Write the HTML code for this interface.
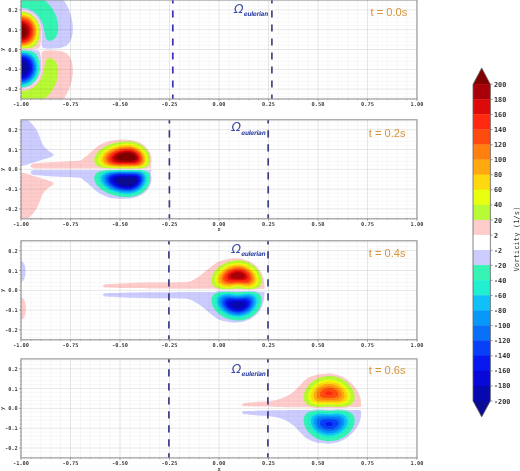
<!DOCTYPE html>
<html><head><meta charset="utf-8"><title>Vorticity</title><style>
html,body{margin:0;padding:0;background:#fff;overflow:hidden;width:520px;height:471px;}
svg{display:block;filter:blur(0.75px);}
.mn{stroke:rgba(0,0,0,0.06);stroke-width:0.6;}
.mj{stroke:rgba(0,0,0,0.12);stroke-width:0.8;}
.tk{stroke:#777;stroke-width:0.7;}
.tl{font-family:"DejaVu Sans Mono","Liberation Mono",monospace;font-size:5.3px;fill:#404040;font-weight:bold;}
.cl{font-family:"DejaVu Sans Mono","Liberation Mono",monospace;font-size:6.8px;fill:#333;font-weight:bold;}
.vl{font-family:"DejaVu Sans Mono","Liberation Mono",monospace;font-size:7.2px;fill:#333;}
.om{font-family:"DejaVu Sans","Liberation Sans",sans-serif;font-style:italic;font-size:12.4px;fill:#3a4aa8;}
.sub{font-family:"DejaVu Sans","Liberation Sans",sans-serif;font-style:italic;font-stretch:condensed;font-weight:bold;font-size:6.4px;letter-spacing:-0.32px;}
.tt{font-family:"Liberation Sans","DejaVu Sans",sans-serif;font-size:11.1px;fill:#d4953c;}
</style></head><body>
<svg width="520" height="471" viewBox="0 0 520 471">
<rect width="520" height="471" fill="#fff"/>
<g>
<clipPath id="c0"><rect x="21.0" y="0.0" width="396.0" height="99.0"/></clipPath>
<g clip-path="url(#c0)">

<path fill="#ccccff" d="M19 -2L62.2 -2 65.9 3.5 68.9 9.5 71.1 16 72.4 22.5 72.8 26 72.8 29.5 72.6 32.5 72.2 35.5 71.6 38 70.6 40.5 69.5 42.5 68.3 44 66.5 45.5 64.5 46.6 61.9 47.5 58.5 48.2 53.5 48.6 47.5 48.7 44 48.3 42.5 47.6 41.9 46.5 41.5 44.5 41.9 34 41.6 29.5 40.9 25.5 39.3 21.5 37.9 19 36 16.5 33.5 14.2 31 12.5 28 11.1 25 10.2 22 9.8 19 9.9ZM19 50L19 49.6 29 49.6 35 49.9 38 50.4 39 51 39.5 51.6 40.3 54.5 41.2 62 41.4 66 41.2 70 40.3 74 39.2 77 37.5 80 35.5 82.5 34 84 32 85.5 30 86.7 28 87.6 26 88.2 23.5 88.7 21.5 88.8 19 88.8Z"/>
<path fill="#ffcccc" d="M19 10.5L19 10.2 20.5 10.2 24 10.4 27 11.1 30 12.3 32.5 13.9 35 16 36.8 18 38.4 20.5 39.6 23 40.6 26 41.1 28.5 41.4 31.5 41.4 35.5 40.8 41.5 40.1 45.5 39.5 47.4 39 48 38.2 48.5 35.5 49.1 29.5 49.4 19 49.4ZM44.9 50.5L51.5 50.3 58.5 50.8 63 51.8 64.7 52.5 66.5 53.5 67.8 54.5 69.1 56 70.8 59 71.6 61 72.2 63.5 72.8 68.5 72.8 72.5 72.4 77 71.6 81 70.4 85.5 68.7 90 66.7 94 64.7 97.5 62.2 101 47.5 101 19 101 19 89.1 22 89.2 25 88.8 28 87.9 30.5 86.8 33 85.2 35.5 83 37.6 80.5 39.1 78 40.7 74 41.3 71.5 41.7 69 41.9 64.5 41.5 55.5 41.7 53 42 52.2 42.5 51.4 43.5 50.8Z"/>
<path fill="#36f5b4" d="M19 -2L41.5 -2 45.5 1 48.7 4 51.9 8 54.3 12 56.3 16.5 57.7 21.5 58.3 26 58.1 30.5 57.8 32.5 57.1 34.5 56.5 36 55.5 37.5 53.5 39.5 52.5 40.1 51 40.7 49.5 40.8 48.5 40.7 47.5 40.3 46.6 39.5 46 38.5 45.3 36.5 43.8 28.5 42.8 24.5 41.4 21 39.7 18 37.8 15.5 35.9 13.5 33.5 11.6 31 10.2 28.5 9.1 25.5 8.2 22 7.8 19 7.9ZM19 50.5L22 50.4 26.5 50.6 29.5 51 32 51.6 34 52.4 35.5 53.5 36.8 55 37.7 56.5 38.8 59.5 39.6 63 39.9 66.5 39.7 70 39 73.5 37.9 76.5 36.5 79 34.5 81.5 31.5 84.1 29.5 85.4 27.5 86.3 23.5 87.3 21.5 87.4 19 87.3Z"/>
<path fill="#b8fa35" d="M19 12L19 11.7 20.5 11.6 24 11.8 27 12.6 29.5 13.6 32 15.2 34 17 36.1 19.5 37.6 22 38.7 24.5 39.5 27.5 39.8 30.5 39.8 34 39.3 37.5 38.5 40.5 37.4 43 36 45 34.9 46 33.5 46.9 30 47.9 25.5 48.5 19 48.6ZM47.9 58.5L49 58.2 50.5 58.2 52 58.7 53.5 59.5 54.6 60.5 55.9 62 56.7 63.5 57.5 65.5 58.3 69.5 58.2 74.5 57.3 79.5 55.8 84 53.2 89 50 93.5 46.1 97.5 42 100.7 41.5 101 30 101 19 101 19 91.1 21.5 91.2 24 91 26.5 90.5 29 89.7 31 88.8 33.5 87.4 35.9 85.5 37.8 83.5 40.4 80 42.3 76 43.7 71 45 63.7 45.5 61.7 46.5 59.6Z"/>
<path fill="#20f0d0" d="M19 51.5L19 51.4 21 51.3 25 51.5 28 52 30.5 52.7 32.5 53.7 34 54.9 35.4 56.5 36.6 58.5 37.7 61.5 38.3 64.5 38.5 67.5 38.3 70.5 37.6 73.5 36.5 76.2 35 78.8 33.1 81 30 83.5 26.5 85.2 23 86 19 86Z"/>
<path fill="#e8ff10" d="M19.3 13L22 12.9 24.5 13.3 27 14 29.5 15.2 31.5 16.6 33.6 18.5 35.2 20.5 36.6 23 37.6 25.5 38.3 28.5 38.5 31 38.4 34 37.8 37 36.8 40 35.5 42.4 34.1 44 32.9 45 31.5 45.8 28.5 46.9 24.5 47.5 19 47.6 19 13Z"/>
<path fill="#10c0f8" d="M19 52.5L19 52.4 21 52.3 24.5 52.5 27.3 53 29.5 53.7 31.5 54.8 32.9 56 34.2 57.5 35.4 59.5 36.4 62 37 65 37.2 68 37 70.5 36.4 73 35.5 75.5 34 78 32.5 79.8 29.5 82.3 26.5 83.8 23 84.7 21 84.8 19 84.7Z"/>
<path fill="#ffd810" d="M19 14.5L19 14.3 20.5 14.2 23.5 14.4 26 15 28.3 16 30.5 17.4 32.3 19 34 21 35.2 23 36.3 25.5 36.9 28 37.2 30.5 37.1 33 36.7 36 35.9 38.5 34.9 40.5 33.4 42.5 31 44.5 28 45.8 24 46.6 19 46.6Z"/>
<path fill="#0898f8" d="M19 53.5L19 53.4 21 53.3 24 53.5 26.5 54 28.5 54.7 30.5 55.8 32 57 33.3 58.5 34.4 60.5 35.3 63 35.8 65.5 36 68 35.8 70.5 35.2 73 34.4 75 33 77.3 31.5 79.1 30 80.5 28.5 81.5 25.5 82.9 22.5 83.5 19 83.4Z"/>
<path fill="#ffa810" d="M19.4 15.5L21.5 15.4 24 15.7 26 16.3 28 17.2 30 18.5 31.6 20 33.2 22 34.4 24 35.2 26 35.8 28.5 36 31 35.8 33.5 35.3 36 34.5 38.3 33.3 40.5 32 42 29.5 43.8 26.5 45 23 45.6 19 45.6 19 15.6Z"/>
<path fill="#0870f8" d="M19 54.5L21 54.3 23.5 54.5 26 55 28 55.8 29.5 56.6 31 57.9 32.4 59.5 33.2 61 34 63 34.6 65.5 34.8 68 34.6 70 34 72.5 33.2 74.5 32.1 76.5 30.9 78 28.5 80 25.5 81.6 22.5 82.3 19 82.2Z"/>
<path fill="#ff8010" d="M19 17L19 16.8 20.5 16.7 23 16.8 25 17.3 27 18.1 29 19.3 30.5 20.6 32 22.4 33 24 33.9 26 34.5 28.5 34.7 30.5 34.7 33 34.2 35.5 33.5 37.5 32.4 39.5 31.1 41 29 42.7 26 44 22.5 44.6 19 44.6Z"/>
<path fill="#0840f8" d="M19.3 55.5L21.5 55.4 23.5 55.6 25.5 56.1 27.5 56.9 29 57.8 30.3 59 31.5 60.5 32.3 62 33 64 33.4 66 33.5 68.5 33.3 70.5 32.7 72.5 32 74.1 30.9 76 29.5 77.5 27 79.4 24.5 80.5 22 81 19 80.9 19 55.5Z"/>
<path fill="#ff4a10" d="M20.2 18L22 18 24 18.4 25.9 19 27.5 19.9 29 21 30.5 22.5 31.5 24 32.5 26 33.1 28 33.5 30 33.5 32 33.2 34 32.7 36 32 37.6 31 39.1 29.5 40.7 27.5 42.1 25 43.1 22 43.6 19 43.5 19 18.1Z"/>
<path fill="#0818f0" d="M19 57L19 56.8 19.5 56.7 22 56.6 24 56.9 26 57.6 27.5 58.4 28.9 59.5 30 60.8 30.8 62 31.5 63.7 32 65.5 32.2 67.5 32.1 69.5 31.6 71.5 31 73 30.2 74.5 29 76.1 27 77.8 24.5 79 22 79.6 19 79.4Z"/>
<path fill="#ff2a10" d="M19.5 19.5L21 19.4 23 19.6 26 20.6 27.5 21.6 29 22.9 30 24.2 31 25.9 31.6 27.5 32.1 29.5 32.1 33 31.6 35 31 36.5 30.1 38 29 39.4 27 40.9 24.5 41.9 22 42.4 19 42.2 19 19.6Z"/>
<path fill="#0808d8" d="M20 58L23 58.1 24.5 58.5 26 59.2 28.2 61 29 62 29.8 63.5 30.6 66.5 30.7 68.5 30.4 70 30 71.5 29.3 73 28.5 74.2 27.3 75.5 25.5 76.8 23.5 77.7 21 78 19 77.8 19 58.1Z"/>
<path fill="#dd0a0a" d="M19 21.5L19 21.2 19.5 21.1 21.5 21 23.5 21.3 25 21.9 27.5 23.6 28.7 25 29.5 26.3 30.2 28 30.5 29.5 30.6 32.5 29.8 35.5 29 37 28 38.2 26 39.8 24 40.6 21.5 41 19 40.9Z"/>
<path fill="#0808b0" d="M19 60L19 59.8 19.5 59.7 21 59.6 22.5 59.7 24 60.1 26.3 61.5 27.9 63.5 28.8 66 28.9 67.5 28.8 69 28 71.5 26.5 73.7 25 74.9 23 75.7 21 76 19 75.7Z"/>
<path fill="#a80008" d="M20.5 23L23 23.3 24.5 23.9 25.5 24.5 27.4 26.5 28.4 28.5 28.9 31 28.7 33.5 27.6 36 26 37.7 24.5 38.7 22.5 39.3 20.5 39.4 19 39.2 19 23.3Z"/>
<path fill="#0c0c92" d="M19.6 62L21.5 61.8 23.5 62.4 25 63.5 25.9 65 26.4 67 26.2 69 25.5 70.6 24.2 72 23 72.7 21.5 73.1 20.1 73 19 72.7 19 62.2Z"/>
<path fill="#800000" d="M20.1 26L22 26 23.5 26.6 25 27.8 26 29.5 26.4 31.5 26.1 33.5 25.4 35 24 36.3 23 36.8 21.5 37.2 20 37.1 19 36.8 19 26.3Z"/>
<line x1="30.90" y1="0.00" x2="30.90" y2="99.00" class="mn"/>
<line x1="40.80" y1="0.00" x2="40.80" y2="99.00" class="mn"/>
<line x1="50.70" y1="0.00" x2="50.70" y2="99.00" class="mn"/>
<line x1="60.60" y1="0.00" x2="60.60" y2="99.00" class="mn"/>
<line x1="80.40" y1="0.00" x2="80.40" y2="99.00" class="mn"/>
<line x1="90.30" y1="0.00" x2="90.30" y2="99.00" class="mn"/>
<line x1="100.20" y1="0.00" x2="100.20" y2="99.00" class="mn"/>
<line x1="110.10" y1="0.00" x2="110.10" y2="99.00" class="mn"/>
<line x1="129.90" y1="0.00" x2="129.90" y2="99.00" class="mn"/>
<line x1="139.80" y1="0.00" x2="139.80" y2="99.00" class="mn"/>
<line x1="149.70" y1="0.00" x2="149.70" y2="99.00" class="mn"/>
<line x1="159.60" y1="0.00" x2="159.60" y2="99.00" class="mn"/>
<line x1="179.40" y1="0.00" x2="179.40" y2="99.00" class="mn"/>
<line x1="189.30" y1="0.00" x2="189.30" y2="99.00" class="mn"/>
<line x1="199.20" y1="0.00" x2="199.20" y2="99.00" class="mn"/>
<line x1="209.10" y1="0.00" x2="209.10" y2="99.00" class="mn"/>
<line x1="228.90" y1="0.00" x2="228.90" y2="99.00" class="mn"/>
<line x1="238.80" y1="0.00" x2="238.80" y2="99.00" class="mn"/>
<line x1="248.70" y1="0.00" x2="248.70" y2="99.00" class="mn"/>
<line x1="258.60" y1="0.00" x2="258.60" y2="99.00" class="mn"/>
<line x1="278.40" y1="0.00" x2="278.40" y2="99.00" class="mn"/>
<line x1="288.30" y1="0.00" x2="288.30" y2="99.00" class="mn"/>
<line x1="298.20" y1="0.00" x2="298.20" y2="99.00" class="mn"/>
<line x1="308.10" y1="0.00" x2="308.10" y2="99.00" class="mn"/>
<line x1="327.90" y1="0.00" x2="327.90" y2="99.00" class="mn"/>
<line x1="337.80" y1="0.00" x2="337.80" y2="99.00" class="mn"/>
<line x1="347.70" y1="0.00" x2="347.70" y2="99.00" class="mn"/>
<line x1="357.60" y1="0.00" x2="357.60" y2="99.00" class="mn"/>
<line x1="377.40" y1="0.00" x2="377.40" y2="99.00" class="mn"/>
<line x1="387.30" y1="0.00" x2="387.30" y2="99.00" class="mn"/>
<line x1="397.20" y1="0.00" x2="397.20" y2="99.00" class="mn"/>
<line x1="407.10" y1="0.00" x2="407.10" y2="99.00" class="mn"/>
<line x1="21.00" y1="1.98" x2="417.00" y2="1.98" class="mn"/>
<line x1="21.00" y1="5.94" x2="417.00" y2="5.94" class="mn"/>
<line x1="21.00" y1="13.86" x2="417.00" y2="13.86" class="mn"/>
<line x1="21.00" y1="17.82" x2="417.00" y2="17.82" class="mn"/>
<line x1="21.00" y1="21.78" x2="417.00" y2="21.78" class="mn"/>
<line x1="21.00" y1="25.74" x2="417.00" y2="25.74" class="mn"/>
<line x1="21.00" y1="33.66" x2="417.00" y2="33.66" class="mn"/>
<line x1="21.00" y1="37.62" x2="417.00" y2="37.62" class="mn"/>
<line x1="21.00" y1="41.58" x2="417.00" y2="41.58" class="mn"/>
<line x1="21.00" y1="45.54" x2="417.00" y2="45.54" class="mn"/>
<line x1="21.00" y1="53.46" x2="417.00" y2="53.46" class="mn"/>
<line x1="21.00" y1="57.42" x2="417.00" y2="57.42" class="mn"/>
<line x1="21.00" y1="61.38" x2="417.00" y2="61.38" class="mn"/>
<line x1="21.00" y1="65.34" x2="417.00" y2="65.34" class="mn"/>
<line x1="21.00" y1="73.26" x2="417.00" y2="73.26" class="mn"/>
<line x1="21.00" y1="77.22" x2="417.00" y2="77.22" class="mn"/>
<line x1="21.00" y1="81.18" x2="417.00" y2="81.18" class="mn"/>
<line x1="21.00" y1="85.14" x2="417.00" y2="85.14" class="mn"/>
<line x1="21.00" y1="93.06" x2="417.00" y2="93.06" class="mn"/>
<line x1="21.00" y1="97.02" x2="417.00" y2="97.02" class="mn"/>
<line x1="21.00" y1="0.00" x2="21.00" y2="99.00" class="mj"/>
<line x1="70.50" y1="0.00" x2="70.50" y2="99.00" class="mj"/>
<line x1="120.00" y1="0.00" x2="120.00" y2="99.00" class="mj"/>
<line x1="169.50" y1="0.00" x2="169.50" y2="99.00" class="mj"/>
<line x1="219.00" y1="0.00" x2="219.00" y2="99.00" class="mj"/>
<line x1="268.50" y1="0.00" x2="268.50" y2="99.00" class="mj"/>
<line x1="318.00" y1="0.00" x2="318.00" y2="99.00" class="mj"/>
<line x1="367.50" y1="0.00" x2="367.50" y2="99.00" class="mj"/>
<line x1="417.00" y1="0.00" x2="417.00" y2="99.00" class="mj"/>
<line x1="21.00" y1="9.90" x2="417.00" y2="9.90" class="mj"/>
<line x1="21.00" y1="29.70" x2="417.00" y2="29.70" class="mj"/>
<line x1="21.00" y1="49.50" x2="417.00" y2="49.50" class="mj"/>
<line x1="21.00" y1="69.30" x2="417.00" y2="69.30" class="mj"/>
<line x1="21.00" y1="89.10" x2="417.00" y2="89.10" class="mj"/>
<line x1="172.8" y1="0.0" x2="172.8" y2="99.0" stroke="#3b30b8" stroke-width="1.7" stroke-dasharray="7.2 6.8" stroke-dashoffset="3.6"/>
<line x1="271.9" y1="0.0" x2="271.9" y2="99.0" stroke="#45457c" stroke-width="1.7" stroke-dasharray="7.2 6.8" stroke-dashoffset="3.6"/>
</g>
<rect x="21.0" y="0.0" width="396.0" height="99.0" fill="none" stroke="#959595" stroke-width="1.15"/>
<path d="M30.90 99.00v1.2M40.80 99.00v1.2M50.70 99.00v1.2M60.60 99.00v1.2M80.40 99.00v1.2M90.30 99.00v1.2M100.20 99.00v1.2M110.10 99.00v1.2M129.90 99.00v1.2M139.80 99.00v1.2M149.70 99.00v1.2M159.60 99.00v1.2M179.40 99.00v1.2M189.30 99.00v1.2M199.20 99.00v1.2M209.10 99.00v1.2M228.90 99.00v1.2M238.80 99.00v1.2M248.70 99.00v1.2M258.60 99.00v1.2M278.40 99.00v1.2M288.30 99.00v1.2M298.20 99.00v1.2M308.10 99.00v1.2M327.90 99.00v1.2M337.80 99.00v1.2M347.70 99.00v1.2M357.60 99.00v1.2M377.40 99.00v1.2M387.30 99.00v1.2M397.20 99.00v1.2M407.10 99.00v1.2M19.80 1.98h1.2M19.80 5.94h1.2M19.80 13.86h1.2M19.80 17.82h1.2M19.80 21.78h1.2M19.80 25.74h1.2M19.80 33.66h1.2M19.80 37.62h1.2M19.80 41.58h1.2M19.80 45.54h1.2M19.80 53.46h1.2M19.80 57.42h1.2M19.80 61.38h1.2M19.80 65.34h1.2M19.80 73.26h1.2M19.80 77.22h1.2M19.80 81.18h1.2M19.80 85.14h1.2M19.80 93.06h1.2M19.80 97.02h1.2" stroke="#888" stroke-width="0.5" fill="none"/>
<line x1="21.00" y1="99.00" x2="21.00" y2="100.80" class="tk"/>
<line x1="70.50" y1="99.00" x2="70.50" y2="100.80" class="tk"/>
<line x1="120.00" y1="99.00" x2="120.00" y2="100.80" class="tk"/>
<line x1="169.50" y1="99.00" x2="169.50" y2="100.80" class="tk"/>
<line x1="219.00" y1="99.00" x2="219.00" y2="100.80" class="tk"/>
<line x1="268.50" y1="99.00" x2="268.50" y2="100.80" class="tk"/>
<line x1="318.00" y1="99.00" x2="318.00" y2="100.80" class="tk"/>
<line x1="367.50" y1="99.00" x2="367.50" y2="100.80" class="tk"/>
<line x1="417.00" y1="99.00" x2="417.00" y2="100.80" class="tk"/>
<line x1="19.20" y1="9.90" x2="21.00" y2="9.90" class="tk"/>
<line x1="19.20" y1="29.70" x2="21.00" y2="29.70" class="tk"/>
<line x1="19.20" y1="49.50" x2="21.00" y2="49.50" class="tk"/>
<line x1="19.20" y1="69.30" x2="21.00" y2="69.30" class="tk"/>
<line x1="19.20" y1="89.10" x2="21.00" y2="89.10" class="tk"/>
<text x="21.00" y="105.80" class="tl" text-anchor="middle">-1.00</text>
<text x="70.50" y="105.80" class="tl" text-anchor="middle">-0.75</text>
<text x="120.00" y="105.80" class="tl" text-anchor="middle">-0.50</text>
<text x="169.50" y="105.80" class="tl" text-anchor="middle">-0.25</text>
<text x="219.00" y="105.80" class="tl" text-anchor="middle">0.00</text>
<text x="268.50" y="105.80" class="tl" text-anchor="middle">0.25</text>
<text x="318.00" y="105.80" class="tl" text-anchor="middle">0.50</text>
<text x="367.50" y="105.80" class="tl" text-anchor="middle">0.75</text>
<text x="417.00" y="105.80" class="tl" text-anchor="middle">1.00</text>
<text x="17.80" y="11.90" class="tl" text-anchor="end">0.2</text>
<text x="17.80" y="31.70" class="tl" text-anchor="end">0.1</text>
<text x="17.80" y="51.50" class="tl" text-anchor="end">0.0</text>
<text x="17.80" y="71.30" class="tl" text-anchor="end">-0.1</text>
<text x="17.80" y="91.10" class="tl" text-anchor="end">-0.2</text>
<text class="tl" transform="translate(4 49.5) rotate(-90)" text-anchor="middle">y</text>
<text x="234.1" y="12.6" class="om">&#937;<tspan class="sub" dy="3.6" dx="0.3">eulerian</tspan></text>
<text x="370.6" y="15.7" class="tt">t = 0.0s</text>
</g>
<g>
<clipPath id="c1"><rect x="21.0" y="119.8" width="396.0" height="99.0"/></clipPath>
<g clip-path="url(#c1)">
<path fill="#ccccff" d="M10 119.8C12.7 119.8 22.4 119.2 26 119.8C29.6 120.4 29.8 122 31.5 123.5C33.2 125 34.8 127.2 36 129C37.2 130.8 38 132.7 38.8 134.5C39.6 136.3 40 138.2 40.8 140C41.5 141.8 42 143.7 43.3 145.4C44.5 147.1 46.5 148.8 48.3 150.4C50 152 53.7 153.7 53.8 154.9C53.9 156.1 51.2 156.8 48.9 157.7C46.6 158.6 43 159.5 40 160.4C37 161.3 34 162.4 31.2 163.2C28.4 164 27 164.8 23.5 165.4C20 166 12.2 166.3 10 166.5Z"/><path fill="#ffcccc" d="M10 218.6C12.7 218.6 22.4 219.2 26 218.6C29.6 218 29.8 216.4 31.5 214.9C33.2 213.4 34.8 211.2 36 209.4C37.2 207.6 38 205.7 38.8 203.9C39.6 202.1 40 200.2 40.8 198.4C41.5 196.6 42 194.7 43.3 193C44.5 191.3 46.5 189.6 48.3 188C50 186.4 53.7 184.7 53.8 183.5C53.9 182.3 51.2 181.6 48.9 180.7C46.6 179.8 43 178.9 40 178C37 177.1 34 176 31.2 175.2C28.4 174.4 27 173.5 23.5 173C20 172.4 12.2 172.1 10 171.9Z"/><path fill="#ffcccc" d="M30.8 166.2C30.8 165.7 31.2 164.8 31.6 164.4C32.1 164 32.4 163.7 33.5 163.5C34.6 163.3 36.1 163.3 38 163.1C39.9 162.9 42.2 162.7 45 162.5C47.8 162.3 51.7 162.1 55 161.9C58.3 161.7 61.7 161.6 65 161.4C68.3 161.2 72.4 161.1 75 161C77.6 160.9 79 161 80.4 160.6C81.8 160.2 82.1 159.4 83.5 158.3C84.9 157.2 87 155.7 88.7 154.2C90.4 152.7 92.2 151 93.9 149.5C95.6 148 97.2 146.5 99.1 145.3C101 144.1 102.9 143 105.3 142.2C107.7 141.3 110.5 140.6 113.6 140.2C116.7 139.8 120.8 139.5 124 139.6C127.2 139.7 130.1 140.1 133 140.8C135.9 141.5 139.2 142.5 141.6 143.8C144 145.1 145.9 146.8 147.4 148.8C148.9 150.8 149.7 153.6 150.3 156C150.9 158.4 150.9 161.5 151 163.3C151.1 165.1 151.1 166.1 150.6 167C150.1 167.9 156.4 168.2 148 168.5C139.6 168.8 118 168.5 100 168.5C82 168.5 51.1 168.5 40 168.4C28.9 168.3 34.9 168.3 33.5 168.2C32.1 168.1 31.9 167.9 31.5 167.6C31.1 167.3 30.8 166.7 30.8 166.2Z"/><path fill="#ccccff" d="M30.8 172.2C30.8 172.7 31.2 173.5 31.6 174C32.1 174.4 32.4 174.7 33.5 174.9C34.6 175.1 36.1 175.1 38 175.3C39.9 175.5 42.2 175.7 45 175.9C47.8 176.1 51.7 176.3 55 176.5C58.3 176.7 61.7 176.8 65 177C68.3 177.1 72.4 177.3 75 177.4C77.6 177.5 79 177.3 80.4 177.8C81.8 178.2 82.1 179 83.5 180.1C84.9 181.2 87 182.7 88.7 184.2C90.4 185.7 92.2 187.4 93.9 188.9C95.6 190.4 97.2 191.9 99.1 193.1C101 194.3 102.9 195.3 105.3 196.2C107.7 197 110.5 197.8 113.6 198.2C116.7 198.6 120.8 198.9 124 198.8C127.2 198.7 130.1 198.3 133 197.6C135.9 196.9 139.2 195.9 141.6 194.6C144 193.3 145.9 191.6 147.4 189.6C148.9 187.6 149.7 184.8 150.3 182.4C150.9 180 150.9 176.9 151 175.1C151.1 173.3 151.1 172.3 150.6 171.4C150.1 170.5 156.4 170.1 148 169.9C139.6 169.6 118 169.9 100 169.9C82 169.9 51.1 169.9 40 170C28.9 170 34.9 170.1 33.5 170.2C32.1 170.3 31.9 170.5 31.5 170.8C31.1 171.1 30.8 171.7 30.8 172.2Z"/>
<clipPath id="l1"><rect x="0" y="169.9" width="520" height="53.9"/></clipPath><path clip-path="url(#l1)" fill="#ccccff" stroke="#ccccff" stroke-width="2.6" stroke-linejoin="round" d="M106.2 170.3L116.5 169.9 139 170 142 170.2 144.5 170.7 146.3 171.3 147.9 172.3 148.9 173.3 149.5 174.3 150 175.8 150.2 177.3 150.2 179.3 149.9 181.3 148.8 184.8 146.7 188.3 144 191.2 141 193.4 137 195.4 133 196.6 129 197.1 123.5 196.9 118 196.2 113 195 108.5 193.5 104.5 191.5 100.4 188.8 97.3 185.8 95.4 182.8 94.8 181.3 94.3 179.3 94.3 177.8 94.5 176.3 95.2 174.8 95.9 173.8 98 172.2 99.5 171.6 101.5 171Z"/>
<clipPath id="u1"><rect x="0" y="114.8" width="520" height="53.7"/></clipPath><path clip-path="url(#u1)" fill="#ffcccc" stroke="#ffcccc" stroke-width="2.6" stroke-linejoin="round" d="M120.9 141.8L127 141.4 131.5 141.6 136 142.6 138.5 143.6 140.5 144.6 144.1 147.3 145.6 148.8 147.2 150.8 148.4 152.8 149.3 154.8 149.9 156.8 150.2 158.8 150.1 161.8 149.4 164.3 148 166 145.9 167.3 143 168 139.5 168.4 124 168.5 109 168.3 104.5 167.9 101 167.3 98.2 166.3 96.1 164.8 94.8 162.8 94.3 160.8 94.3 159.3 94.6 157.8 95.8 154.8 98 151.8 101.5 148.8 106 146.1 110.5 144.2 116 142.6Z"/>
<path fill="#36f5b4" d="M106.2 170.3L116.5 169.9 139 170 142 170.2 144.5 170.7 146.3 171.3 147.9 172.3 148.9 173.3 149.5 174.3 150 175.8 150.2 177.3 150.2 179.3 149.9 181.3 148.8 184.8 146.7 188.3 144 191.2 141 193.4 137 195.4 133 196.6 129 197.1 123.5 196.9 118 196.2 113 195 108.5 193.5 104.5 191.5 100.4 188.8 97.3 185.8 95.4 182.8 94.8 181.3 94.3 179.3 94.3 177.8 94.5 176.3 95.2 174.8 95.9 173.8 98 172.2 99.5 171.6 101.5 171Z"/>
<path fill="#b8fa35" d="M120.9 141.8L127 141.4 131.5 141.6 136 142.6 138.5 143.6 140.5 144.6 144.1 147.3 145.6 148.8 147.2 150.8 148.4 152.8 149.3 154.8 149.9 156.8 150.2 158.8 150.1 161.8 149.4 164.3 148 166 145.9 167.3 143 168 139.5 168.4 124 168.5 109 168.3 104.5 167.9 101 167.3 98.2 166.3 96.1 164.8 94.8 162.8 94.3 160.8 94.3 159.3 94.6 157.8 95.8 154.8 98 151.8 101.5 148.8 106 146.1 110.5 144.2 116 142.6Z"/>
<path fill="#20f0d0" d="M111.7 170.8L119.5 170.6 138 170.7 141 171.1 143 171.6 144.6 172.3 146 173.4 146.7 174.3 147.4 175.8 147.7 177.3 147.8 178.8 147.7 180.3 147.2 182.3 145.6 185.8 143.2 188.8 140.5 191.1 137 193.1 133.5 194.3 129.5 194.9 125.5 194.9 120.5 194.4 115.5 193.3 111.5 192.1 107.5 190.3 104 188.1 101.5 185.8 99.5 183.3 98.8 181.8 98.3 180.3 98.1 177.8 98.4 176.3 98.9 175.3 100.5 173.6 103 172.3 107 171.3Z"/>
<path fill="#e8ff10" d="M122.3 143.8L127.5 143.5 131.5 143.7 135.5 144.7 139 146.3 142.4 148.8 145 151.8 146.2 153.8 146.9 155.3 147.7 158.8 147.7 161.3 146.9 163.8 145.5 165.4 143.5 166.6 141 167.3 137.5 167.7 124.5 167.8 111.5 167.6 107.5 167.2 104 166.4 101.5 165.4 99.9 164.3 99.1 163.3 98.5 162.3 98 160.3 98.3 157.8 98.9 156.3 99.7 154.8 102 152.1 105 149.6 108.5 147.6 112.5 146 117.5 144.6Z"/>
<path fill="#10c0f8" d="M118.4 171.3L134 171.3 138.5 171.6 141 172.1 142.7 172.8 144.1 173.8 145.3 175.3 145.8 176.8 146 178.3 145.7 181.3 144.5 184.3 142.4 187.3 139.7 189.8 136.5 191.7 133 192.9 129.5 193.4 125.5 193.4 121 192.9 116.5 192 112.5 190.7 109 189 106 187.1 103.5 184.8 101.7 182.3 100.8 179.8 100.8 178.3 100.9 177.3 101.3 176.3 101.9 175.3 103.5 173.9 105.8 172.8 109 172 113 171.5Z"/>
<path fill="#ffd810" d="M122.5 145.3L127.5 145 131 145.1 134.5 146 138 147.5 141 149.7 143.4 152.3 145.1 155.3 145.9 158.3 146 160.8 145.6 162.3 145.1 163.3 143.9 164.8 142 165.9 139.5 166.7 136.5 167 125 167.1 114 166.9 110 166.6 107 166 104.5 165 102.6 163.8 101.4 162.3 100.8 160.3 101 157.8 102.2 155.3 104.2 152.8 106.7 150.8 110 148.8 114 147.2 118 146.1Z"/>
<path fill="#0898f8" d="M113.5 172.3L119.5 172 136 172.1 138 172.3 140 172.8 141.5 173.5 142.7 174.3 144 176.1 144.5 178.3 144.3 180.8 143.2 183.8 141.5 186.3 139.5 188.3 137 190 134 191.3 131 192 128 192.2 123.5 192 119 191.2 115.5 190.3 112 188.9 109 187.3 106.5 185.3 104.7 183.3 103.3 180.8 103 178.8 103.5 176.8 104.6 175.3 106.9 173.8 110 172.8Z"/>
<path fill="#ffa810" d="M125.1 146.3L129 146.2 132.5 146.7 135.5 147.7 138.5 149.3 141 151.5 143.1 154.3 144.3 157.3 144.5 158.8 144.5 160.3 144 162.3 143 163.8 141.5 164.9 139.5 165.7 137.5 166.1 135 166.3 123 166.4 117.5 166.3 113.5 166.1 110 165.6 107.4 164.8 105.4 163.8 103.9 162.3 103.2 160.8 103.1 158.8 103.7 156.8 105.3 154.3 107.4 152.3 110 150.5 113 149.1 117 147.7 121 146.8Z"/>
<path fill="#0870f8" d="M118.9 172.8L133.5 172.8 136.5 173 138.5 173.4 140 173.9 141.4 174.8 142.3 175.8 143.1 177.8 143.1 180.3 142.3 182.8 140.8 185.3 138.9 187.3 136.5 189 133.5 190.3 130.5 190.9 127 191.1 123 190.8 119 190 115.5 189 112.5 187.7 110 186.2 107.7 184.3 106.1 182.3 105.3 180.3 105.2 178.3 105.7 176.8 107.2 175.3 109 174.3 111.5 173.5 115 173Z"/>
<path fill="#ff8010" d="M121.8 147.8L126 147.4 129.5 147.3 132.5 147.8 135 148.7 137.8 150.3 140 152.2 141.6 154.3 142.8 156.8 143.2 159.3 142.9 161.3 142 162.9 140.3 164.3 138.5 165 136 165.5 127 165.5 117.5 165.6 114.1 165.3 111.5 164.9 109.5 164.3 107.4 163.3 106.3 162.3 105.4 160.8 105.1 158.8 105.7 156.8 107 154.8 109.2 152.8 112 151 115 149.6 118.5 148.5Z"/>
<path fill="#0840f8" d="M115.9 173.8L120.5 173.6 135 173.7 138.2 174.3 139.5 174.9 140.5 175.7 141.5 177.3 141.9 179.3 141.6 181.3 140.7 183.3 139.3 185.3 137.5 187 135.4 188.3 133 189.3 130.5 189.9 128 190.1 124 189.8 120.5 189.3 117.5 188.5 114.5 187.3 111.8 185.8 109.8 184.3 108.5 182.8 107.4 180.8 107.1 178.8 107.7 177.3 109 175.9 110.5 175 112.8 174.3Z"/>
<path fill="#ff4a10" d="M122.3 148.8L126 148.4 129.5 148.4 132 148.8 134.5 149.7 137 151 139 152.8 140.6 154.8 141.6 157.3 141.9 159.3 141.5 161.3 140.4 162.8 139 163.8 137.5 164.3 135 164.7 127 164.7 118.5 164.8 115.5 164.5 113 164.1 111 163.6 109.4 162.8 108.2 161.8 107.3 160.3 107.1 158.8 107.7 156.8 109 155 110.8 153.3 113.1 151.8 116 150.5 119 149.5Z"/>
<path fill="#0818f0" d="M115.8 174.8L120 174.5 133.5 174.5 136.5 174.9 138.7 175.8 140 177.2 140.5 178.7 140.5 180.3 139.9 182.3 138.7 184.3 137.2 185.8 135.5 187 133.5 188 131.5 188.6 129 189 126 189 123 188.6 120 188 117.5 187.3 115 186.2 112.7 184.8 111 183.3 109.6 181.3 109.2 179.8 109.4 178.3 110 177.3 111.5 176.1 113.4 175.3Z"/>
<path fill="#ff2a10" d="M122.8 149.8L126 149.4 129 149.4 131.5 149.7 133.5 150.4 135.5 151.4 137.5 152.8 139.2 154.8 140.2 156.8 140.6 158.8 140.4 160.3 139.6 161.8 138.3 162.8 136.5 163.5 134.5 163.9 127.5 163.8 119 163.9 114.2 163.3 112.5 162.8 110.7 161.8 109.7 160.8 109.3 159.8 109.2 158.3 109.7 156.8 110.8 155.3 112.4 153.8 114.5 152.5 117 151.3 120 150.4Z"/>
<path fill="#0808d8" d="M116.6 175.8L120.5 175.5 133 175.5 135.5 175.8 137.5 176.6 138.5 177.6 139 178.8 139.1 180.3 138.7 181.8 137.9 183.3 136.6 184.8 135 186.1 133 187.1 131 187.7 129 188 126.5 187.9 123.5 187.6 121 187.1 118.5 186.4 116.1 185.3 114.4 184.3 112.7 182.8 111.7 181.3 111.3 179.8 111.5 178.8 112.1 177.8 113.4 176.8 114.6 176.3Z"/>
<path fill="#dd0a0a" d="M123.3 150.8L126 150.5 129 150.4 131 150.7 133 151.3 134.9 152.3 136.5 153.5 138 155.2 138.8 156.8 139.1 158.3 139 159.8 138.1 161.3 137 162.1 135.5 162.6 134 162.9 127.5 162.9 120 162.9 116 162.5 114 161.9 112.9 161.3 112 160.5 111.5 159.6 111.3 158.3 111.8 156.8 113 155.3 114.2 154.3 115.7 153.3 118 152.2 120.5 151.4Z"/>
<path fill="#0808b0" d="M118.7 176.8L122 176.6 133 176.6 135 177 136.5 177.8 137.3 178.8 137.5 179.8 137.5 180.8 136.9 182.3 136 183.6 135 184.6 133.5 185.5 132 186.2 130.5 186.6 128.5 186.8 124 186.5 119.5 185.4 116.4 183.8 115 182.6 114.1 181.3 113.8 180.3 113.9 179.3 114.5 178.4 115.3 177.8 116.5 177.3Z"/>
<path fill="#a80008" d="M124.5 151.8L129 151.6 130.6 151.8 132.5 152.4 134.3 153.3 135.5 154.3 136.8 155.8 137.4 157.3 137.5 158.8 137.2 159.8 136.5 160.6 135.5 161.2 133 161.8 127 161.7 121 161.8 117.5 161.4 116 160.9 114.9 160.3 114.3 159.8 113.8 158.8 113.8 157.8 114.5 156.4 115.5 155.3 116.9 154.3 120.2 152.8Z"/>
<path fill="#0c0c92" d="M119.8 178.3L123 178 131 178 132.5 178.1 134 178.4 135 179.1 135.4 179.8 135.4 181.3 135 182.3 134.2 183.3 132 184.7 129.5 185.4 126.5 185.5 123 184.9 119.9 183.8 117.7 182.3 116.9 180.8 117.1 179.8 117.5 179.3 118.2 178.8Z"/>
<path fill="#800000" d="M123.8 153.3L127.5 152.9 130.5 153.2 133 154.2 134.8 155.8 135.3 156.8 135.5 157.8 135.3 158.8 134.5 159.7 132.5 160.4 129 160.4 121 160.3 118.7 159.8 117.7 159.3 117.2 158.8 116.9 158.3 117 157.3 118 155.8 120.5 154.3Z"/>
<line x1="30.90" y1="119.80" x2="30.90" y2="218.80" class="mn"/>
<line x1="40.80" y1="119.80" x2="40.80" y2="218.80" class="mn"/>
<line x1="50.70" y1="119.80" x2="50.70" y2="218.80" class="mn"/>
<line x1="60.60" y1="119.80" x2="60.60" y2="218.80" class="mn"/>
<line x1="80.40" y1="119.80" x2="80.40" y2="218.80" class="mn"/>
<line x1="90.30" y1="119.80" x2="90.30" y2="218.80" class="mn"/>
<line x1="100.20" y1="119.80" x2="100.20" y2="218.80" class="mn"/>
<line x1="110.10" y1="119.80" x2="110.10" y2="218.80" class="mn"/>
<line x1="129.90" y1="119.80" x2="129.90" y2="218.80" class="mn"/>
<line x1="139.80" y1="119.80" x2="139.80" y2="218.80" class="mn"/>
<line x1="149.70" y1="119.80" x2="149.70" y2="218.80" class="mn"/>
<line x1="159.60" y1="119.80" x2="159.60" y2="218.80" class="mn"/>
<line x1="179.40" y1="119.80" x2="179.40" y2="218.80" class="mn"/>
<line x1="189.30" y1="119.80" x2="189.30" y2="218.80" class="mn"/>
<line x1="199.20" y1="119.80" x2="199.20" y2="218.80" class="mn"/>
<line x1="209.10" y1="119.80" x2="209.10" y2="218.80" class="mn"/>
<line x1="228.90" y1="119.80" x2="228.90" y2="218.80" class="mn"/>
<line x1="238.80" y1="119.80" x2="238.80" y2="218.80" class="mn"/>
<line x1="248.70" y1="119.80" x2="248.70" y2="218.80" class="mn"/>
<line x1="258.60" y1="119.80" x2="258.60" y2="218.80" class="mn"/>
<line x1="278.40" y1="119.80" x2="278.40" y2="218.80" class="mn"/>
<line x1="288.30" y1="119.80" x2="288.30" y2="218.80" class="mn"/>
<line x1="298.20" y1="119.80" x2="298.20" y2="218.80" class="mn"/>
<line x1="308.10" y1="119.80" x2="308.10" y2="218.80" class="mn"/>
<line x1="327.90" y1="119.80" x2="327.90" y2="218.80" class="mn"/>
<line x1="337.80" y1="119.80" x2="337.80" y2="218.80" class="mn"/>
<line x1="347.70" y1="119.80" x2="347.70" y2="218.80" class="mn"/>
<line x1="357.60" y1="119.80" x2="357.60" y2="218.80" class="mn"/>
<line x1="377.40" y1="119.80" x2="377.40" y2="218.80" class="mn"/>
<line x1="387.30" y1="119.80" x2="387.30" y2="218.80" class="mn"/>
<line x1="397.20" y1="119.80" x2="397.20" y2="218.80" class="mn"/>
<line x1="407.10" y1="119.80" x2="407.10" y2="218.80" class="mn"/>
<line x1="21.00" y1="121.78" x2="417.00" y2="121.78" class="mn"/>
<line x1="21.00" y1="125.74" x2="417.00" y2="125.74" class="mn"/>
<line x1="21.00" y1="133.66" x2="417.00" y2="133.66" class="mn"/>
<line x1="21.00" y1="137.62" x2="417.00" y2="137.62" class="mn"/>
<line x1="21.00" y1="141.58" x2="417.00" y2="141.58" class="mn"/>
<line x1="21.00" y1="145.54" x2="417.00" y2="145.54" class="mn"/>
<line x1="21.00" y1="153.46" x2="417.00" y2="153.46" class="mn"/>
<line x1="21.00" y1="157.42" x2="417.00" y2="157.42" class="mn"/>
<line x1="21.00" y1="161.38" x2="417.00" y2="161.38" class="mn"/>
<line x1="21.00" y1="165.34" x2="417.00" y2="165.34" class="mn"/>
<line x1="21.00" y1="173.26" x2="417.00" y2="173.26" class="mn"/>
<line x1="21.00" y1="177.22" x2="417.00" y2="177.22" class="mn"/>
<line x1="21.00" y1="181.18" x2="417.00" y2="181.18" class="mn"/>
<line x1="21.00" y1="185.14" x2="417.00" y2="185.14" class="mn"/>
<line x1="21.00" y1="193.06" x2="417.00" y2="193.06" class="mn"/>
<line x1="21.00" y1="197.02" x2="417.00" y2="197.02" class="mn"/>
<line x1="21.00" y1="200.98" x2="417.00" y2="200.98" class="mn"/>
<line x1="21.00" y1="204.94" x2="417.00" y2="204.94" class="mn"/>
<line x1="21.00" y1="212.86" x2="417.00" y2="212.86" class="mn"/>
<line x1="21.00" y1="216.82" x2="417.00" y2="216.82" class="mn"/>
<line x1="21.00" y1="119.80" x2="21.00" y2="218.80" class="mj"/>
<line x1="70.50" y1="119.80" x2="70.50" y2="218.80" class="mj"/>
<line x1="120.00" y1="119.80" x2="120.00" y2="218.80" class="mj"/>
<line x1="169.50" y1="119.80" x2="169.50" y2="218.80" class="mj"/>
<line x1="219.00" y1="119.80" x2="219.00" y2="218.80" class="mj"/>
<line x1="268.50" y1="119.80" x2="268.50" y2="218.80" class="mj"/>
<line x1="318.00" y1="119.80" x2="318.00" y2="218.80" class="mj"/>
<line x1="367.50" y1="119.80" x2="367.50" y2="218.80" class="mj"/>
<line x1="417.00" y1="119.80" x2="417.00" y2="218.80" class="mj"/>
<line x1="21.00" y1="129.70" x2="417.00" y2="129.70" class="mj"/>
<line x1="21.00" y1="149.50" x2="417.00" y2="149.50" class="mj"/>
<line x1="21.00" y1="169.30" x2="417.00" y2="169.30" class="mj"/>
<line x1="21.00" y1="189.10" x2="417.00" y2="189.10" class="mj"/>
<line x1="21.00" y1="208.90" x2="417.00" y2="208.90" class="mj"/>
<line x1="169.4" y1="119.8" x2="169.4" y2="218.8" stroke="#3d3d86" stroke-width="1.7" stroke-dasharray="7.2 6.8" stroke-dashoffset="3.6"/>
<line x1="268.2" y1="119.8" x2="268.2" y2="218.8" stroke="#3d3d86" stroke-width="1.7" stroke-dasharray="7.2 6.8" stroke-dashoffset="3.6"/>
</g>
<rect x="21.0" y="119.8" width="396.0" height="99.0" fill="none" stroke="#959595" stroke-width="1.15"/>
<path d="M30.90 218.80v1.2M40.80 218.80v1.2M50.70 218.80v1.2M60.60 218.80v1.2M80.40 218.80v1.2M90.30 218.80v1.2M100.20 218.80v1.2M110.10 218.80v1.2M129.90 218.80v1.2M139.80 218.80v1.2M149.70 218.80v1.2M159.60 218.80v1.2M179.40 218.80v1.2M189.30 218.80v1.2M199.20 218.80v1.2M209.10 218.80v1.2M228.90 218.80v1.2M238.80 218.80v1.2M248.70 218.80v1.2M258.60 218.80v1.2M278.40 218.80v1.2M288.30 218.80v1.2M298.20 218.80v1.2M308.10 218.80v1.2M327.90 218.80v1.2M337.80 218.80v1.2M347.70 218.80v1.2M357.60 218.80v1.2M377.40 218.80v1.2M387.30 218.80v1.2M397.20 218.80v1.2M407.10 218.80v1.2M19.80 121.78h1.2M19.80 125.74h1.2M19.80 133.66h1.2M19.80 137.62h1.2M19.80 141.58h1.2M19.80 145.54h1.2M19.80 153.46h1.2M19.80 157.42h1.2M19.80 161.38h1.2M19.80 165.34h1.2M19.80 173.26h1.2M19.80 177.22h1.2M19.80 181.18h1.2M19.80 185.14h1.2M19.80 193.06h1.2M19.80 197.02h1.2M19.80 200.98h1.2M19.80 204.94h1.2M19.80 212.86h1.2M19.80 216.82h1.2" stroke="#888" stroke-width="0.5" fill="none"/>
<line x1="21.00" y1="218.80" x2="21.00" y2="220.60" class="tk"/>
<line x1="70.50" y1="218.80" x2="70.50" y2="220.60" class="tk"/>
<line x1="120.00" y1="218.80" x2="120.00" y2="220.60" class="tk"/>
<line x1="169.50" y1="218.80" x2="169.50" y2="220.60" class="tk"/>
<line x1="219.00" y1="218.80" x2="219.00" y2="220.60" class="tk"/>
<line x1="268.50" y1="218.80" x2="268.50" y2="220.60" class="tk"/>
<line x1="318.00" y1="218.80" x2="318.00" y2="220.60" class="tk"/>
<line x1="367.50" y1="218.80" x2="367.50" y2="220.60" class="tk"/>
<line x1="417.00" y1="218.80" x2="417.00" y2="220.60" class="tk"/>
<line x1="19.20" y1="129.70" x2="21.00" y2="129.70" class="tk"/>
<line x1="19.20" y1="149.50" x2="21.00" y2="149.50" class="tk"/>
<line x1="19.20" y1="169.30" x2="21.00" y2="169.30" class="tk"/>
<line x1="19.20" y1="189.10" x2="21.00" y2="189.10" class="tk"/>
<line x1="19.20" y1="208.90" x2="21.00" y2="208.90" class="tk"/>
<text x="21.00" y="225.60" class="tl" text-anchor="middle">-1.00</text>
<text x="70.50" y="225.60" class="tl" text-anchor="middle">-0.75</text>
<text x="120.00" y="225.60" class="tl" text-anchor="middle">-0.50</text>
<text x="169.50" y="225.60" class="tl" text-anchor="middle">-0.25</text>
<text x="219.00" y="225.60" class="tl" text-anchor="middle">0.00</text>
<text x="268.50" y="225.60" class="tl" text-anchor="middle">0.25</text>
<text x="318.00" y="225.60" class="tl" text-anchor="middle">0.50</text>
<text x="367.50" y="225.60" class="tl" text-anchor="middle">0.75</text>
<text x="417.00" y="225.60" class="tl" text-anchor="middle">1.00</text>
<text x="17.80" y="131.70" class="tl" text-anchor="end">0.2</text>
<text x="17.80" y="151.50" class="tl" text-anchor="end">0.1</text>
<text x="17.80" y="171.30" class="tl" text-anchor="end">0.0</text>
<text x="17.80" y="191.10" class="tl" text-anchor="end">-0.1</text>
<text x="17.80" y="210.90" class="tl" text-anchor="end">-0.2</text>
<text class="tl" transform="translate(4 169.3) rotate(-90)" text-anchor="middle">y</text>
<text x="219" y="231.4" class="tl" text-anchor="middle">x</text>
<text x="231.6" y="131.1" class="om">&#937;<tspan class="sub" dy="3.6" dx="0.3">eulerian</tspan></text>
<text x="368.8" y="137.0" class="tt">t = 0.2s</text>
</g>
<g>
<clipPath id="c2"><rect x="21.0" y="240.8" width="396.0" height="99.0"/></clipPath>
<g clip-path="url(#c2)">
<ellipse cx="21" cy="271.6" rx="4.6" ry="10.6" fill="#ccccff"/><ellipse cx="21" cy="308.6" rx="5.0" ry="11" fill="#ffcccc"/><path fill="#ffcccc" d="M103 286.2C103 285.8 103.4 285.2 103.8 284.9C104.2 284.6 104.5 284.3 105.5 284.2C106.5 284.1 108.4 284.1 110 284C111.6 283.9 111.7 284 115 283.8C118.3 283.6 124.2 283.2 130 283C135.8 282.8 143.3 282.7 150 282.6C156.7 282.5 165 282.6 170 282.5C175 282.4 176.7 282.5 180 282.3C183.3 282.1 186.8 282.4 190 281.4C193.2 280.4 196.1 278.3 199.2 276.2C202.3 274.1 205.4 271.2 208.5 268.8C211.6 266.4 214.6 263.5 217.7 261.9C220.8 260.3 223.8 259.8 226.9 259.2C230 258.6 232.9 258.1 236 258.2C239.1 258.3 242.7 259.1 245.4 260C248.2 260.9 250.4 262.3 252.5 263.6C254.6 264.9 256.3 266.4 257.8 268C259.3 269.6 260.4 271.5 261.4 273.4C262.4 275.3 263.1 277.5 263.6 279.6C264.1 281.7 264.4 284.4 264.5 285.9C264.6 287.3 264.6 287.8 264.2 288.3C263.8 288.8 272.7 288.9 262 289C251.3 289.1 218.7 288.9 200 288.8C181.3 288.7 162.5 288.6 150 288.5C137.5 288.4 130.8 288.2 125 288.1C119.2 288 118.2 287.9 115 287.8C111.8 287.7 107.8 287.7 106 287.6C104.2 287.5 104.5 287.5 104 287.3C103.5 287.1 103 286.6 103 286.2Z"/><path fill="#ccccff" d="M103 294.6C103 295 103.4 295.6 103.8 295.9C104.2 296.2 104.5 296.4 105.5 296.6C106.5 296.7 108.4 296.7 110 296.8C111.6 296.9 111.7 296.8 115 297C118.3 297.2 124.2 297.6 130 297.8C135.8 298 143.3 298.1 150 298.2C156.7 298.3 165 298.2 170 298.3C175 298.3 176.7 298.3 180 298.5C183.3 298.7 186.8 298.4 190 299.4C193.2 300.4 196.1 302.5 199.2 304.6C202.3 306.7 205.4 309.6 208.5 312C211.6 314.4 214.6 317.3 217.7 318.9C220.8 320.5 223.8 321 226.9 321.6C230 322.2 232.9 322.7 236 322.6C239.1 322.5 242.7 321.7 245.4 320.8C248.2 319.9 250.4 318.5 252.5 317.2C254.6 315.9 256.3 314.4 257.8 312.8C259.3 311.2 260.4 309.3 261.4 307.4C262.4 305.5 263.1 303.3 263.6 301.2C264.1 299.1 264.4 296.3 264.5 294.9C264.6 293.4 264.6 293 264.2 292.5C263.8 292 272.7 291.9 262 291.8C251.3 291.7 218.7 291.9 200 292C181.3 292.1 162.5 292.2 150 292.3C137.5 292.4 130.8 292.6 125 292.7C119.2 292.8 118.2 292.9 115 293C111.8 293.1 107.8 293.1 106 293.2C104.2 293.3 104.5 293.3 104 293.5C103.5 293.7 103 294.2 103 294.6Z"/>
<clipPath id="l2"><rect x="0" y="291.1" width="520" height="53.7"/></clipPath><path clip-path="url(#l2)" fill="#ccccff" stroke="#ccccff" stroke-width="2.6" stroke-linejoin="round" d="M222.3 291.8L229.5 291.7 238 292.3 245.5 291.7 251 291.7 253.5 292 256 292.5 258.1 293.3 259.5 294.3 260.4 295.3 261 296.3 261.5 297.8 261.8 299.3 261.6 302.8 261 304.8 260.3 306.8 258.3 310.3 256 313.1 253 315.7 249.5 317.9 245.5 319.5 241.5 320.4 237.5 320.6 233 320.2 228.5 319.1 224.5 317.5 221 315.5 217.5 312.7 214.6 309.3 213.3 307.3 212.4 305.3 211.5 301.8 211.4 299.8 211.5 298.3 212 296.8 212.6 295.8 213.4 294.8 214.6 293.8 216 293.1 218 292.4Z"/>
<clipPath id="u2"><rect x="0" y="235.8" width="520" height="53.9"/></clipPath><path clip-path="url(#u2)" fill="#ffcccc" stroke="#ffcccc" stroke-width="2.6" stroke-linejoin="round" d="M235.8 260.3L240.5 260.3 245 261.2 249 262.7 253 265.1 256.5 268.3 259.1 271.8 260.2 273.8 261 275.8 261.5 277.8 261.8 279.8 261.7 282.3 260.9 284.8 260.2 285.8 259.2 286.8 257 288 253.8 288.8 249.5 289.2 245 289.1 237.5 288.5 231 289 226 289.2 221 288.9 217.5 288.2 215.1 287.3 213.2 285.8 211.9 283.8 211.4 281.3 211.4 279.8 211.7 277.8 212.3 275.8 213.2 273.8 215.5 270.3 218.5 267.2 222 264.7 226.5 262.4 231 261Z"/>
<path fill="#36f5b4" d="M222.3 291.8L229.5 291.7 238 292.3 245.5 291.7 251 291.7 253.5 292 256 292.5 258.1 293.3 259.5 294.3 260.4 295.3 261 296.3 261.5 297.8 261.8 299.3 261.6 302.8 261 304.8 260.3 306.8 258.3 310.3 256 313.1 253 315.7 249.5 317.9 245.5 319.5 241.5 320.4 237.5 320.6 233 320.2 228.5 319.1 224.5 317.5 221 315.5 217.5 312.7 214.6 309.3 213.3 307.3 212.4 305.3 211.5 301.8 211.4 299.8 211.5 298.3 212 296.8 212.6 295.8 213.4 294.8 214.6 293.8 216 293.1 218 292.4Z"/>
<path fill="#b8fa35" d="M235.8 260.3L240.5 260.3 245 261.2 249 262.7 253 265.1 256.5 268.3 259.1 271.8 260.2 273.8 261 275.8 261.5 277.8 261.8 279.8 261.7 282.3 260.9 284.8 260.2 285.8 259.2 286.8 257 288 253.8 288.8 249.5 289.2 245 289.1 237.5 288.5 231 289 226 289.2 221 288.9 217.5 288.2 215.1 287.3 213.2 285.8 211.9 283.8 211.4 281.3 211.4 279.8 211.7 277.8 212.3 275.8 213.2 273.8 215.5 270.3 218.5 267.2 222 264.7 226.5 262.4 231 261Z"/>
<path fill="#20f0d0" d="M222 293.3L225 292.9 228.5 292.9 238.5 293.9 245 293 249 292.9 253 293.4 254.5 293.9 256.1 294.8 257.6 296.3 258.2 297.3 258.7 298.8 258.9 301.3 258.3 304.3 257.1 307.3 255 310.3 252.6 312.8 249.9 314.8 246.5 316.5 243 317.6 239.5 318.1 236 318.1 232 317.5 228.5 316.4 225 314.9 221.8 312.8 219 310.3 216.7 307.3 215.7 305.3 215.1 303.8 214.7 300.8 214.8 299.3 215.2 297.8 216.6 295.8 218.8 294.3Z"/>
<path fill="#e8ff10" d="M235.4 262.8L239.5 262.7 243.5 263.3 247 264.5 250.5 266.4 252.4 267.8 254 269.3 256.4 272.3 257.9 275.3 258.8 278.8 258.8 281.3 258 283.8 257.4 284.8 256.5 285.7 254.5 286.9 251.5 287.7 248 287.9 244.5 287.7 238.5 286.9 228 287.9 224.1 287.8 221.1 287.3 218.5 286.4 216.9 285.3 216 284.3 215.4 283.3 214.8 281.3 214.7 279.8 214.8 278.3 215.8 275.3 216.9 273.3 217.9 271.8 220.5 269.1 224 266.5 227.5 264.7 231.5 263.4Z"/>
<path fill="#10c0f8" d="M224.5 294.3L227 294.1 229.5 294.2 238 295.2 240 295.1 245.5 294.2 248.5 294.1 252 294.7 253.3 295.3 254.5 296.1 255.9 297.8 256.6 299.8 256.7 302.3 256.1 304.8 254.9 307.3 253.1 309.8 250.5 312.2 248 313.9 245 315.2 242 316.1 238.5 316.4 235 316.2 231.5 315.6 228.5 314.6 225.5 313.1 222.5 311 220 308.4 218.3 305.8 217.3 302.8 217.1 300.3 217.7 298.3 218.3 297.3 219.3 296.3 221.5 295.1Z"/>
<path fill="#ffd810" d="M233.5 264.8L237.5 264.4 241 264.6 244.5 265.4 247.5 266.7 250.5 268.6 252.9 270.8 254.8 273.3 256.2 276.3 256.7 279.3 256.4 281.8 255.4 283.8 253.7 285.3 251.2 286.3 248 286.7 245 286.5 240.5 285.8 237 285.6 228.5 286.7 224 286.4 221.7 285.8 219.7 284.8 218.2 283.3 217.4 281.8 217.1 279.3 217.6 276.8 219 273.8 220.9 271.3 223.5 269 226.5 267.2 230 265.7Z"/>
<path fill="#0898f8" d="M224.2 295.8L226.5 295.4 229 295.4 236 296.2 238.5 296.3 245 295.5 247.5 295.4 250.4 295.8 252.5 296.8 254 298.3 254.7 299.8 254.9 301.8 254.5 304.3 253.3 306.8 252 308.7 250 310.7 248 312.2 245.5 313.5 242.5 314.5 240 314.9 237 315 234 314.7 231 313.9 228 312.7 225.5 311.3 223 309.3 221.3 307.3 219.9 304.8 219.2 302.3 219.3 300.3 220.2 298.3 221.8 296.8Z"/>
<path fill="#ffa810" d="M237.5 265.8L241 266 244 266.7 247 268 249.5 269.7 251.8 271.8 253.5 274.3 254.5 276.8 254.9 279.3 254.6 281.3 253.8 282.8 252.5 284 250.5 285 248.5 285.4 246.5 285.4 239.5 284.5 237 284.5 228.5 285.4 226 285.3 223.6 284.8 221.5 283.8 220.1 282.3 219.4 280.8 219.2 278.8 219.6 276.8 220.8 274.3 222.7 271.8 225.1 269.8 228 268.1 231 266.9 234 266.1Z"/>
<path fill="#0870f8" d="M226.5 296.8L230 296.7 236 297.3 238.5 297.4 245 296.7 247 296.6 249 296.9 251 297.8 252.1 298.8 252.9 300.3 253.2 302.3 252.8 304.3 251.9 306.3 250.5 308.3 249 309.8 247 311.3 244.5 312.5 242 313.3 239.5 313.7 237 313.7 234 313.4 231.5 312.7 229 311.7 226.5 310.3 224.1 308.3 222.5 306.3 221.4 303.8 221.1 301.8 221.5 300.1 222.5 298.6 224 297.6Z"/>
<path fill="#ff8010" d="M234.8 267.3L238 267 240.5 267.2 243 267.7 245.7 268.8 248 270.2 250 271.9 251.5 273.8 252.7 276.3 253.1 278.3 253 280.3 252 282.1 250.5 283.3 248.5 284 246.5 284.2 240 283.5 236.5 283.5 229.5 284.2 226.5 284 224.5 283.4 223.3 282.8 222.2 281.8 221.4 280.3 221.2 278.3 221.6 276.3 222.7 274.3 224.3 272.3 226.5 270.5 229 269.1 232 267.9Z"/>
<path fill="#0840f8" d="M226.7 298.3L230 297.9 238.5 298.4 245.5 297.9 248 298.2 249.5 298.9 250.5 299.8 251.3 301.3 251.4 302.8 251.2 304.3 250.3 306.3 249.2 307.8 247.6 309.3 246.2 310.3 244 311.4 242 312.1 240 312.4 237.5 312.5 235 312.3 232.5 311.7 230 310.8 228.2 309.8 226.2 308.3 224.8 306.8 223.8 305.3 223.2 303.3 223.2 301.8 223.7 300.3 225 299.1Z"/>
<path fill="#ff4a10" d="M236.6 268.3L239.5 268.3 242 268.7 244.5 269.6 246.5 270.7 248.5 272.3 249.8 273.8 250.9 275.8 251.4 277.8 251.3 279.3 250.7 280.8 249.7 281.8 248.5 282.4 247 282.8 245.5 282.9 238 282.4 230.5 282.9 227 282.6 225.5 282 224.4 281.3 223.6 280.3 223.1 278.8 223.2 277.3 223.9 275.3 225.4 273.3 227 271.8 229 270.5 231.5 269.4 234 268.7Z"/>
<path fill="#0818f0" d="M230.1 299.3L238 299.5 245 299.3 247 299.6 248.3 300.3 249.2 301.3 249.5 302.3 249.5 303.8 249.1 305.3 248.2 306.8 247 308.1 245.5 309.2 244 310.1 242 310.8 240 311.2 238 311.4 236 311.2 234 310.9 232 310.3 230 309.3 228.4 308.3 226.8 306.8 225.8 305.3 225.2 303.8 225.3 302.3 225.7 301.3 226.7 300.3 228 299.7Z"/>
<path fill="#ff2a10" d="M234.5 269.8L237 269.5 239 269.5 241 269.7 243 270.3 245 271.3 246.5 272.3 248 273.8 249 275.3 249.5 276.8 249.6 278.3 249 279.7 248 280.7 247 281.2 245.5 281.5 240.5 281.4 231.5 281.5 229.5 281.4 227 280.7 226 279.9 225.6 279.3 225.2 278.3 225.3 276.8 225.9 275.3 227 273.8 228.5 272.4 230.3 271.3 232.5 270.4Z"/>
<path fill="#0808d8" d="M230.9 300.8L233.5 300.6 242.5 300.6 244.5 300.8 246 301.3 246.7 301.8 247.4 302.8 247.5 303.8 247.3 304.8 246.9 305.8 246 306.9 245 307.9 243.5 308.8 240.5 309.9 237.5 310.1 234 309.5 231 308.3 229.7 307.3 228.7 306.3 228 305.3 227.5 303.8 227.7 302.8 228.4 301.8 229.5 301.2Z"/>
<path fill="#dd0a0a" d="M236.4 270.8L240 270.8 243.1 271.8 244.8 272.8 245.9 273.8 247 275.3 247.4 276.3 247.5 277.3 247.2 278.3 246.9 278.8 246 279.5 245 279.9 243.5 280.1 239 280.2 233 280.2 230.5 279.9 229.5 279.6 228.5 279 227.6 277.8 227.6 276.8 228 275.5 228.8 274.3 229.9 273.3 231.4 272.3 233 271.6Z"/>
<path fill="#0808b0" d="M233.5 302.3L236.5 302.1 240.5 302.1 242.5 302.4 244 303 244.7 303.8 244.8 304.3 244.6 305.3 243.5 306.8 241.5 308 239 308.6 236.5 308.5 234 307.8 232.1 306.8 230.8 305.3 230.6 304.3 230.7 303.8 231.1 303.3 231.8 302.8Z"/>
<path fill="#a80008" d="M236.6 272.3L239 272.2 241.5 272.8 242.5 273.3 243.8 274.3 244.7 275.8 244.8 276.8 244.5 277.3 243.5 278.1 242 278.5 239 278.7 235.5 278.7 233 278.4 231.4 277.8 230.6 276.8 230.6 276.3 230.9 275.3 232.4 273.8 234.4 272.8Z"/>
<path fill="#0c0c92" d="M237.3 305.3L238 305 238.9 305.3 238 305.5Z"/>
<path fill="#800000" d="M237.5 275.3L238.7 275.3 238.6 275.8 237.7 275.8Z"/>
<line x1="30.90" y1="240.80" x2="30.90" y2="339.80" class="mn"/>
<line x1="40.80" y1="240.80" x2="40.80" y2="339.80" class="mn"/>
<line x1="50.70" y1="240.80" x2="50.70" y2="339.80" class="mn"/>
<line x1="60.60" y1="240.80" x2="60.60" y2="339.80" class="mn"/>
<line x1="80.40" y1="240.80" x2="80.40" y2="339.80" class="mn"/>
<line x1="90.30" y1="240.80" x2="90.30" y2="339.80" class="mn"/>
<line x1="100.20" y1="240.80" x2="100.20" y2="339.80" class="mn"/>
<line x1="110.10" y1="240.80" x2="110.10" y2="339.80" class="mn"/>
<line x1="129.90" y1="240.80" x2="129.90" y2="339.80" class="mn"/>
<line x1="139.80" y1="240.80" x2="139.80" y2="339.80" class="mn"/>
<line x1="149.70" y1="240.80" x2="149.70" y2="339.80" class="mn"/>
<line x1="159.60" y1="240.80" x2="159.60" y2="339.80" class="mn"/>
<line x1="179.40" y1="240.80" x2="179.40" y2="339.80" class="mn"/>
<line x1="189.30" y1="240.80" x2="189.30" y2="339.80" class="mn"/>
<line x1="199.20" y1="240.80" x2="199.20" y2="339.80" class="mn"/>
<line x1="209.10" y1="240.80" x2="209.10" y2="339.80" class="mn"/>
<line x1="228.90" y1="240.80" x2="228.90" y2="339.80" class="mn"/>
<line x1="238.80" y1="240.80" x2="238.80" y2="339.80" class="mn"/>
<line x1="248.70" y1="240.80" x2="248.70" y2="339.80" class="mn"/>
<line x1="258.60" y1="240.80" x2="258.60" y2="339.80" class="mn"/>
<line x1="278.40" y1="240.80" x2="278.40" y2="339.80" class="mn"/>
<line x1="288.30" y1="240.80" x2="288.30" y2="339.80" class="mn"/>
<line x1="298.20" y1="240.80" x2="298.20" y2="339.80" class="mn"/>
<line x1="308.10" y1="240.80" x2="308.10" y2="339.80" class="mn"/>
<line x1="327.90" y1="240.80" x2="327.90" y2="339.80" class="mn"/>
<line x1="337.80" y1="240.80" x2="337.80" y2="339.80" class="mn"/>
<line x1="347.70" y1="240.80" x2="347.70" y2="339.80" class="mn"/>
<line x1="357.60" y1="240.80" x2="357.60" y2="339.80" class="mn"/>
<line x1="377.40" y1="240.80" x2="377.40" y2="339.80" class="mn"/>
<line x1="387.30" y1="240.80" x2="387.30" y2="339.80" class="mn"/>
<line x1="397.20" y1="240.80" x2="397.20" y2="339.80" class="mn"/>
<line x1="407.10" y1="240.80" x2="407.10" y2="339.80" class="mn"/>
<line x1="21.00" y1="242.78" x2="417.00" y2="242.78" class="mn"/>
<line x1="21.00" y1="246.74" x2="417.00" y2="246.74" class="mn"/>
<line x1="21.00" y1="254.66" x2="417.00" y2="254.66" class="mn"/>
<line x1="21.00" y1="258.62" x2="417.00" y2="258.62" class="mn"/>
<line x1="21.00" y1="262.58" x2="417.00" y2="262.58" class="mn"/>
<line x1="21.00" y1="266.54" x2="417.00" y2="266.54" class="mn"/>
<line x1="21.00" y1="274.46" x2="417.00" y2="274.46" class="mn"/>
<line x1="21.00" y1="278.42" x2="417.00" y2="278.42" class="mn"/>
<line x1="21.00" y1="282.38" x2="417.00" y2="282.38" class="mn"/>
<line x1="21.00" y1="286.34" x2="417.00" y2="286.34" class="mn"/>
<line x1="21.00" y1="294.26" x2="417.00" y2="294.26" class="mn"/>
<line x1="21.00" y1="298.22" x2="417.00" y2="298.22" class="mn"/>
<line x1="21.00" y1="302.18" x2="417.00" y2="302.18" class="mn"/>
<line x1="21.00" y1="306.14" x2="417.00" y2="306.14" class="mn"/>
<line x1="21.00" y1="314.06" x2="417.00" y2="314.06" class="mn"/>
<line x1="21.00" y1="318.02" x2="417.00" y2="318.02" class="mn"/>
<line x1="21.00" y1="321.98" x2="417.00" y2="321.98" class="mn"/>
<line x1="21.00" y1="325.94" x2="417.00" y2="325.94" class="mn"/>
<line x1="21.00" y1="333.86" x2="417.00" y2="333.86" class="mn"/>
<line x1="21.00" y1="337.82" x2="417.00" y2="337.82" class="mn"/>
<line x1="21.00" y1="240.80" x2="21.00" y2="339.80" class="mj"/>
<line x1="70.50" y1="240.80" x2="70.50" y2="339.80" class="mj"/>
<line x1="120.00" y1="240.80" x2="120.00" y2="339.80" class="mj"/>
<line x1="169.50" y1="240.80" x2="169.50" y2="339.80" class="mj"/>
<line x1="219.00" y1="240.80" x2="219.00" y2="339.80" class="mj"/>
<line x1="268.50" y1="240.80" x2="268.50" y2="339.80" class="mj"/>
<line x1="318.00" y1="240.80" x2="318.00" y2="339.80" class="mj"/>
<line x1="367.50" y1="240.80" x2="367.50" y2="339.80" class="mj"/>
<line x1="417.00" y1="240.80" x2="417.00" y2="339.80" class="mj"/>
<line x1="21.00" y1="250.70" x2="417.00" y2="250.70" class="mj"/>
<line x1="21.00" y1="270.50" x2="417.00" y2="270.50" class="mj"/>
<line x1="21.00" y1="290.30" x2="417.00" y2="290.30" class="mj"/>
<line x1="21.00" y1="310.10" x2="417.00" y2="310.10" class="mj"/>
<line x1="21.00" y1="329.90" x2="417.00" y2="329.90" class="mj"/>
<line x1="168.9" y1="240.8" x2="168.9" y2="339.8" stroke="#3d3d86" stroke-width="1.7" stroke-dasharray="7.2 6.8" stroke-dashoffset="3.6"/>
<line x1="268.0" y1="240.8" x2="268.0" y2="339.8" stroke="#3d3d86" stroke-width="1.7" stroke-dasharray="7.2 6.8" stroke-dashoffset="3.6"/>
</g>
<rect x="21.0" y="240.8" width="396.0" height="99.0" fill="none" stroke="#959595" stroke-width="1.15"/>
<path d="M30.90 339.80v1.2M40.80 339.80v1.2M50.70 339.80v1.2M60.60 339.80v1.2M80.40 339.80v1.2M90.30 339.80v1.2M100.20 339.80v1.2M110.10 339.80v1.2M129.90 339.80v1.2M139.80 339.80v1.2M149.70 339.80v1.2M159.60 339.80v1.2M179.40 339.80v1.2M189.30 339.80v1.2M199.20 339.80v1.2M209.10 339.80v1.2M228.90 339.80v1.2M238.80 339.80v1.2M248.70 339.80v1.2M258.60 339.80v1.2M278.40 339.80v1.2M288.30 339.80v1.2M298.20 339.80v1.2M308.10 339.80v1.2M327.90 339.80v1.2M337.80 339.80v1.2M347.70 339.80v1.2M357.60 339.80v1.2M377.40 339.80v1.2M387.30 339.80v1.2M397.20 339.80v1.2M407.10 339.80v1.2M19.80 242.78h1.2M19.80 246.74h1.2M19.80 254.66h1.2M19.80 258.62h1.2M19.80 262.58h1.2M19.80 266.54h1.2M19.80 274.46h1.2M19.80 278.42h1.2M19.80 282.38h1.2M19.80 286.34h1.2M19.80 294.26h1.2M19.80 298.22h1.2M19.80 302.18h1.2M19.80 306.14h1.2M19.80 314.06h1.2M19.80 318.02h1.2M19.80 321.98h1.2M19.80 325.94h1.2M19.80 333.86h1.2M19.80 337.82h1.2" stroke="#888" stroke-width="0.5" fill="none"/>
<line x1="21.00" y1="339.80" x2="21.00" y2="341.60" class="tk"/>
<line x1="70.50" y1="339.80" x2="70.50" y2="341.60" class="tk"/>
<line x1="120.00" y1="339.80" x2="120.00" y2="341.60" class="tk"/>
<line x1="169.50" y1="339.80" x2="169.50" y2="341.60" class="tk"/>
<line x1="219.00" y1="339.80" x2="219.00" y2="341.60" class="tk"/>
<line x1="268.50" y1="339.80" x2="268.50" y2="341.60" class="tk"/>
<line x1="318.00" y1="339.80" x2="318.00" y2="341.60" class="tk"/>
<line x1="367.50" y1="339.80" x2="367.50" y2="341.60" class="tk"/>
<line x1="417.00" y1="339.80" x2="417.00" y2="341.60" class="tk"/>
<line x1="19.20" y1="250.70" x2="21.00" y2="250.70" class="tk"/>
<line x1="19.20" y1="270.50" x2="21.00" y2="270.50" class="tk"/>
<line x1="19.20" y1="290.30" x2="21.00" y2="290.30" class="tk"/>
<line x1="19.20" y1="310.10" x2="21.00" y2="310.10" class="tk"/>
<line x1="19.20" y1="329.90" x2="21.00" y2="329.90" class="tk"/>
<text x="21.00" y="346.60" class="tl" text-anchor="middle">-1.00</text>
<text x="70.50" y="346.60" class="tl" text-anchor="middle">-0.75</text>
<text x="120.00" y="346.60" class="tl" text-anchor="middle">-0.50</text>
<text x="169.50" y="346.60" class="tl" text-anchor="middle">-0.25</text>
<text x="219.00" y="346.60" class="tl" text-anchor="middle">0.00</text>
<text x="268.50" y="346.60" class="tl" text-anchor="middle">0.25</text>
<text x="318.00" y="346.60" class="tl" text-anchor="middle">0.50</text>
<text x="367.50" y="346.60" class="tl" text-anchor="middle">0.75</text>
<text x="417.00" y="346.60" class="tl" text-anchor="middle">1.00</text>
<text x="17.80" y="252.70" class="tl" text-anchor="end">0.2</text>
<text x="17.80" y="272.50" class="tl" text-anchor="end">0.1</text>
<text x="17.80" y="292.30" class="tl" text-anchor="end">0.0</text>
<text x="17.80" y="312.10" class="tl" text-anchor="end">-0.1</text>
<text x="17.80" y="331.90" class="tl" text-anchor="end">-0.2</text>
<text class="tl" transform="translate(4 290.3) rotate(-90)" text-anchor="middle">y</text>
<text x="231.5" y="252.8" class="om">&#937;<tspan class="sub" dy="3.6" dx="0.3">eulerian</tspan></text>
<text x="368.8" y="257.0" class="tt">t = 0.4s</text>
</g>
<g>
<clipPath id="c3"><rect x="21.0" y="358.9" width="396.0" height="99.0"/></clipPath>
<g clip-path="url(#c3)">
<path fill="#ffcccc" d="M242 405.2C242 404.8 242.4 404.1 242.8 403.7C243.2 403.3 243.3 403.1 244.5 402.9C245.7 402.7 248.1 402.6 250 402.5C251.9 402.4 254 402.2 256 402C258 401.8 259.7 401.7 262 401.5C264.3 401.3 267.7 401.3 270 401C272.3 400.7 274.2 400.3 276 399.9C277.8 399.5 279.3 399.2 281 398.6C282.7 398.1 284.5 397.3 286 396.6C287.5 395.9 288.5 395.3 290 394.3C291.5 393.3 293.5 391.9 295 390.5C296.5 389.1 297.2 388 299.2 386C301.2 384 304 380.6 306.9 378.7C309.8 376.8 313.3 375.6 316.5 374.8C319.7 374 323.8 374 326.2 373.8C328.6 373.6 328.5 373.3 330.6 373.6C332.7 373.9 336.4 374.6 339 375.5C341.6 376.4 344.1 377.5 346.5 379.2C348.9 380.9 351.7 383.4 353.6 385.6C355.6 387.8 357 390.1 358.2 392.3C359.4 394.5 360.1 396.6 360.6 398.8C361.1 401 361 404.1 361 405.4C361 406.7 361.2 406.5 360.4 406.8C359.6 407.1 366.1 407.1 356 407.2C345.9 407.3 313.5 407.2 300 407.2C286.5 407.1 281.3 407 275 406.9C268.7 406.8 266.2 406.7 262 406.6C257.8 406.5 252.9 406.3 250 406.2C247.1 406.1 245.7 406.2 244.5 406.1C243.3 406.1 243.2 406 242.8 405.9C242.4 405.8 242 405.6 242 405.2Z"/><path fill="#ccccff" d="M242 412C242 412.4 242.4 413.1 242.8 413.5C243.2 413.9 243.3 414.1 244.5 414.3C245.7 414.5 248.1 414.6 250 414.7C251.9 414.9 254 415 256 415.2C258 415.4 259.7 415.5 262 415.7C264.3 415.9 267.7 415.9 270 416.2C272.3 416.5 274.2 416.9 276 417.3C277.8 417.7 279.3 418.1 281 418.6C282.7 419.2 284.5 419.9 286 420.6C287.5 421.3 288.5 421.9 290 422.9C291.5 423.9 293.5 425.3 295 426.7C296.5 428.1 297.2 429.2 299.2 431.2C301.2 433.2 304 436.6 306.9 438.5C309.8 440.4 313.3 441.6 316.5 442.4C319.7 443.2 323.8 443.2 326.2 443.4C328.6 443.6 328.5 443.9 330.6 443.6C332.7 443.3 336.4 442.6 339 441.7C341.6 440.8 344.1 439.7 346.5 438C348.9 436.3 351.7 433.8 353.6 431.6C355.6 429.4 357 427.1 358.2 424.9C359.4 422.7 360.1 420.6 360.6 418.4C361.1 416.2 361 413.1 361 411.8C361 410.5 361.2 410.7 360.4 410.4C359.6 410.1 366.1 410.1 356 410C345.9 409.9 313.5 410 300 410C286.5 410.1 281.3 410.2 275 410.3C268.7 410.4 266.2 410.5 262 410.6C257.8 410.7 252.9 410.9 250 411C247.1 411.1 245.7 411.1 244.5 411.1C243.3 411.2 243.2 411.2 242.8 411.3C242.4 411.5 242 411.6 242 412Z"/>
<clipPath id="l3"><rect x="0" y="409.3" width="520" height="53.6"/></clipPath><path clip-path="url(#l3)" fill="#ccccff" stroke="#ccccff" stroke-width="2.6" stroke-linejoin="round" d="M316.7 410.4L322 410.3 329 410.7 338.5 410.3 343.5 410.6 346.5 411.1 349.3 411.9 351.2 412.9 352.8 414.4 353.5 415.4 354.2 416.9 354.6 418.4 354.8 420.4 354.3 423.9 352.9 427.4 350.7 430.9 348 433.9 344.5 436.7 340.3 438.9 336.5 440.2 332 441.1 327.5 441.2 323 440.6 318.5 439.2 315 437.4 311.5 435 308.4 431.9 306.8 429.9 305.6 427.9 304.7 425.9 304.1 423.9 303.7 421.9 303.6 419.9 303.8 417.9 304.3 416.4 305.1 414.9 305.9 413.9 307.1 412.9 308.5 412.1 312 411Z"/>
<clipPath id="u3"><rect x="0" y="353.9" width="520" height="54.0"/></clipPath><path clip-path="url(#u3)" fill="#ffcccc" stroke="#ffcccc" stroke-width="2.6" stroke-linejoin="round" d="M324.3 376.4L329 376 333.5 376.3 337.5 377.3 342 379.1 346 381.6 349.1 384.4 351.9 387.9 353 389.9 353.8 391.9 354.7 395.4 354.8 397.4 354.6 398.9 354.2 400.4 353.5 401.9 351.7 403.9 349 405.4 345.2 406.4 340 406.9 334.5 406.8 329 406.5 322.5 406.9 318.5 406.9 315 406.7 312 406.2 309.3 405.4 307 404.2 305.2 402.4 304.1 400.4 303.7 398.9 303.6 396.9 303.7 394.9 304.2 392.9 304.9 390.9 305.9 388.9 308.3 385.4 311.5 382.2 315.5 379.5 319.5 377.7Z"/>
<path fill="#36f5b4" d="M316.7 410.4L322 410.3 329 410.7 338.5 410.3 343.5 410.6 346.5 411.1 349.3 411.9 351.2 412.9 352.8 414.4 353.5 415.4 354.2 416.9 354.6 418.4 354.8 420.4 354.3 423.9 352.9 427.4 350.7 430.9 348 433.9 344.5 436.7 340.3 438.9 336.5 440.2 332 441.1 327.5 441.2 323 440.6 318.5 439.2 315 437.4 311.5 435 308.4 431.9 306.8 429.9 305.6 427.9 304.7 425.9 304.1 423.9 303.7 421.9 303.6 419.9 303.8 417.9 304.3 416.4 305.1 414.9 305.9 413.9 307.1 412.9 308.5 412.1 312 411Z"/>
<path fill="#b8fa35" d="M324.3 376.4L329 376 333.5 376.3 337.5 377.3 342 379.1 346 381.6 349.1 384.4 351.9 387.9 353 389.9 353.8 391.9 354.7 395.4 354.8 397.4 354.6 398.9 354.2 400.4 353.5 401.9 351.7 403.9 349 405.4 345.2 406.4 340 406.9 334.5 406.8 329 406.5 322.5 406.9 318.5 406.9 315 406.7 312 406.2 309.3 405.4 307 404.2 305.2 402.4 304.1 400.4 303.7 398.9 303.6 396.9 303.7 394.9 304.2 392.9 304.9 390.9 305.9 388.9 308.3 385.4 311.5 382.2 315.5 379.5 319.5 377.7Z"/>
<path fill="#20f0d0" d="M315.9 412.4L320.5 412 329 412.6 336 412 340 412.1 342.5 412.4 344.5 412.9 346.5 413.8 348.1 414.9 349.7 416.9 350.5 419.4 350.5 421.9 349.8 424.9 348.3 427.9 346.4 430.4 343.7 432.9 340.7 434.9 337.5 436.3 334 437.3 330.5 437.8 326.5 437.7 323 437.1 319.5 435.9 316 434 313.3 431.9 310.6 428.9 308.9 425.9 308.3 424.4 307.8 422.4 307.8 419.4 308.6 416.9 310.2 414.9 312.6 413.4Z"/>
<path fill="#e8ff10" d="M327.7 379.4L331.5 379.5 335.5 380.2 339 381.5 342.5 383.4 345.5 385.8 347.7 388.4 349.4 391.4 350.2 393.4 350.5 394.9 350.5 397.4 349.9 399.9 348.5 401.9 346.5 403.4 343.5 404.5 340 405.1 336 405.2 331 404.7 328.5 404.6 323 405.1 320 405.2 317 405 314 404.3 311.8 403.4 309.8 401.9 308.4 399.9 307.7 397.4 307.9 394.4 308.3 392.9 309.1 390.9 310.9 387.9 313.5 385.1 316.5 382.9 320 381.1 323.5 380Z"/>
<path fill="#10c0f8" d="M318.6 413.9L322.5 413.7 329 414.2 335.5 413.7 339 413.8 341 414.2 343 414.8 344.2 415.4 345.5 416.4 346.9 418.4 347.4 420.4 347.3 422.9 346.5 425.4 345 427.9 343.2 429.9 340.8 431.9 338 433.5 335 434.6 332 435.2 329 435.4 326 435.2 323 434.5 320 433.4 317.5 431.9 315 429.9 312.9 427.4 311.6 424.9 310.9 421.9 311 419.4 311.9 417.4 313.5 415.8 316 414.5Z"/>
<path fill="#ffd810" d="M326.9 381.9L330 381.8 333.5 382.2 336.5 383.1 339.5 384.5 342.2 386.4 344.5 388.7 346.3 391.4 347.2 393.9 347.4 396.4 347 398.4 345.9 400.4 344 401.9 341.6 402.9 339 403.4 336 403.5 331.5 403.1 328.5 403 321 403.5 318.5 403.3 316.7 402.9 314.5 402 312.9 400.9 311.7 399.4 311 397.4 310.9 394.9 311.5 392.4 312.8 389.9 315 387.3 317.5 385.3 320.5 383.6 323.5 382.5Z"/>
<path fill="#0898f8" d="M318.8 415.9L322 415.5 329 415.7 336.5 415.5 340 416.1 341.5 416.7 342.5 417.3 343.9 418.9 344.4 420.4 344.6 421.9 344.2 423.9 343.4 425.9 341.9 427.9 340 429.7 338 431 335.5 432.2 333 432.9 330.5 433.3 328 433.3 325.5 433 323 432.3 320.5 431.2 318.5 429.9 316.3 427.9 314.9 425.9 313.9 423.4 313.7 421.4 314.1 419.4 315.1 417.9 316.5 416.8Z"/>
<path fill="#ffa810" d="M328 383.9L331 384 333.5 384.4 336 385.2 338.5 386.5 340.5 387.9 342.5 390 343.9 392.4 344.5 394.4 344.5 396.4 344.1 397.9 343 399.4 341.5 400.5 339.5 401.3 337.5 401.6 335 401.7 331 401.5 322 401.7 318.5 401.2 316.5 400.4 315.2 399.4 314.2 397.9 313.7 396.4 313.7 394.4 314.6 391.9 315.8 389.9 317.7 387.9 320 386.3 322.5 385.1 325 384.3Z"/>
<path fill="#0870f8" d="M322.2 417.4L325 417.3 336 417.4 338.5 418 339.5 418.5 340.5 419.3 341.3 420.4 341.7 421.9 341.6 423.4 341 424.9 340.1 426.4 338.7 427.9 337.4 428.9 335.5 429.9 333.5 430.7 331.5 431.1 329 431.3 327 431.2 325 430.8 323 430.1 321 429 319.5 427.9 318 426.2 317 424.4 316.6 422.4 316.8 420.9 317.5 419.6 318.5 418.6 320 417.9Z"/>
<path fill="#ff8010" d="M328.1 385.9L330.5 385.9 332.5 386.2 334.7 386.9 336.7 387.9 338.5 389.1 340 390.7 341.1 392.4 341.6 393.9 341.7 395.4 341.2 396.9 340.5 397.9 339.2 398.9 337.9 399.4 336 399.8 330.5 399.9 323.5 399.9 320.5 399.5 319.1 398.9 318 398.2 317 396.9 316.7 395.9 316.6 394.4 317.1 392.4 318 390.9 319.5 389.3 321.4 387.9 323.5 386.9 326 386.2Z"/>
<path fill="#0840f8" d="M324.3 419.4L328.5 419.2 333.5 419.4 335.9 419.9 337.5 420.9 338.1 421.9 338.3 422.9 338.2 423.9 337.7 424.9 337 425.9 336 426.9 333.3 428.4 331.6 428.9 330 429.1 327 429 324 428 321.6 426.4 320.8 425.4 320 423.9 319.9 422.9 320.1 421.9 320.7 420.9 321.5 420.3 322.5 419.8Z"/>
<path fill="#ff4a10" d="M326.1 388.4L329.5 388 332.5 388.5 334 389.1 335.5 389.9 336.7 390.9 337.5 391.9 338 392.9 338.3 394.4 338.1 395.4 337.5 396.3 336.7 396.9 335.5 397.4 332 398 327 398 324 397.7 322.6 397.4 321.5 396.9 320.4 395.9 320 394.9 319.9 393.9 320.2 392.9 321 391.5 323 389.7 324.5 388.9Z"/>
<path fill="#0818f0" d="M326.5 422.4L328 422.1 330 422.1 331.5 422.4 332.5 422.9 332.8 423.4 332.8 424.4 332 425.2 331 425.7 330 426 328.5 426 327 425.7 326 425.1 325.4 424.4 325.3 423.4 325.7 422.9Z"/>
<path fill="#ff2a10" d="M327.3 391.4L328.5 391.2 330 391.2 331.5 391.7 332.5 392.4 332.9 393.4 332.8 393.9 332.4 394.4 331 395 328 395.1 326.8 394.9 325.8 394.4 325.4 393.9 325.3 392.9 326.3 391.9Z"/>
<line x1="30.90" y1="358.90" x2="30.90" y2="457.90" class="mn"/>
<line x1="40.80" y1="358.90" x2="40.80" y2="457.90" class="mn"/>
<line x1="50.70" y1="358.90" x2="50.70" y2="457.90" class="mn"/>
<line x1="60.60" y1="358.90" x2="60.60" y2="457.90" class="mn"/>
<line x1="80.40" y1="358.90" x2="80.40" y2="457.90" class="mn"/>
<line x1="90.30" y1="358.90" x2="90.30" y2="457.90" class="mn"/>
<line x1="100.20" y1="358.90" x2="100.20" y2="457.90" class="mn"/>
<line x1="110.10" y1="358.90" x2="110.10" y2="457.90" class="mn"/>
<line x1="129.90" y1="358.90" x2="129.90" y2="457.90" class="mn"/>
<line x1="139.80" y1="358.90" x2="139.80" y2="457.90" class="mn"/>
<line x1="149.70" y1="358.90" x2="149.70" y2="457.90" class="mn"/>
<line x1="159.60" y1="358.90" x2="159.60" y2="457.90" class="mn"/>
<line x1="179.40" y1="358.90" x2="179.40" y2="457.90" class="mn"/>
<line x1="189.30" y1="358.90" x2="189.30" y2="457.90" class="mn"/>
<line x1="199.20" y1="358.90" x2="199.20" y2="457.90" class="mn"/>
<line x1="209.10" y1="358.90" x2="209.10" y2="457.90" class="mn"/>
<line x1="228.90" y1="358.90" x2="228.90" y2="457.90" class="mn"/>
<line x1="238.80" y1="358.90" x2="238.80" y2="457.90" class="mn"/>
<line x1="248.70" y1="358.90" x2="248.70" y2="457.90" class="mn"/>
<line x1="258.60" y1="358.90" x2="258.60" y2="457.90" class="mn"/>
<line x1="278.40" y1="358.90" x2="278.40" y2="457.90" class="mn"/>
<line x1="288.30" y1="358.90" x2="288.30" y2="457.90" class="mn"/>
<line x1="298.20" y1="358.90" x2="298.20" y2="457.90" class="mn"/>
<line x1="308.10" y1="358.90" x2="308.10" y2="457.90" class="mn"/>
<line x1="327.90" y1="358.90" x2="327.90" y2="457.90" class="mn"/>
<line x1="337.80" y1="358.90" x2="337.80" y2="457.90" class="mn"/>
<line x1="347.70" y1="358.90" x2="347.70" y2="457.90" class="mn"/>
<line x1="357.60" y1="358.90" x2="357.60" y2="457.90" class="mn"/>
<line x1="377.40" y1="358.90" x2="377.40" y2="457.90" class="mn"/>
<line x1="387.30" y1="358.90" x2="387.30" y2="457.90" class="mn"/>
<line x1="397.20" y1="358.90" x2="397.20" y2="457.90" class="mn"/>
<line x1="407.10" y1="358.90" x2="407.10" y2="457.90" class="mn"/>
<line x1="21.00" y1="360.88" x2="417.00" y2="360.88" class="mn"/>
<line x1="21.00" y1="364.84" x2="417.00" y2="364.84" class="mn"/>
<line x1="21.00" y1="372.76" x2="417.00" y2="372.76" class="mn"/>
<line x1="21.00" y1="376.72" x2="417.00" y2="376.72" class="mn"/>
<line x1="21.00" y1="380.68" x2="417.00" y2="380.68" class="mn"/>
<line x1="21.00" y1="384.64" x2="417.00" y2="384.64" class="mn"/>
<line x1="21.00" y1="392.56" x2="417.00" y2="392.56" class="mn"/>
<line x1="21.00" y1="396.52" x2="417.00" y2="396.52" class="mn"/>
<line x1="21.00" y1="400.48" x2="417.00" y2="400.48" class="mn"/>
<line x1="21.00" y1="404.44" x2="417.00" y2="404.44" class="mn"/>
<line x1="21.00" y1="412.36" x2="417.00" y2="412.36" class="mn"/>
<line x1="21.00" y1="416.32" x2="417.00" y2="416.32" class="mn"/>
<line x1="21.00" y1="420.28" x2="417.00" y2="420.28" class="mn"/>
<line x1="21.00" y1="424.24" x2="417.00" y2="424.24" class="mn"/>
<line x1="21.00" y1="432.16" x2="417.00" y2="432.16" class="mn"/>
<line x1="21.00" y1="436.12" x2="417.00" y2="436.12" class="mn"/>
<line x1="21.00" y1="440.08" x2="417.00" y2="440.08" class="mn"/>
<line x1="21.00" y1="444.04" x2="417.00" y2="444.04" class="mn"/>
<line x1="21.00" y1="451.96" x2="417.00" y2="451.96" class="mn"/>
<line x1="21.00" y1="455.92" x2="417.00" y2="455.92" class="mn"/>
<line x1="21.00" y1="358.90" x2="21.00" y2="457.90" class="mj"/>
<line x1="70.50" y1="358.90" x2="70.50" y2="457.90" class="mj"/>
<line x1="120.00" y1="358.90" x2="120.00" y2="457.90" class="mj"/>
<line x1="169.50" y1="358.90" x2="169.50" y2="457.90" class="mj"/>
<line x1="219.00" y1="358.90" x2="219.00" y2="457.90" class="mj"/>
<line x1="268.50" y1="358.90" x2="268.50" y2="457.90" class="mj"/>
<line x1="318.00" y1="358.90" x2="318.00" y2="457.90" class="mj"/>
<line x1="367.50" y1="358.90" x2="367.50" y2="457.90" class="mj"/>
<line x1="417.00" y1="358.90" x2="417.00" y2="457.90" class="mj"/>
<line x1="21.00" y1="368.80" x2="417.00" y2="368.80" class="mj"/>
<line x1="21.00" y1="388.60" x2="417.00" y2="388.60" class="mj"/>
<line x1="21.00" y1="408.40" x2="417.00" y2="408.40" class="mj"/>
<line x1="21.00" y1="428.20" x2="417.00" y2="428.20" class="mj"/>
<line x1="21.00" y1="448.00" x2="417.00" y2="448.00" class="mj"/>
<line x1="168.9" y1="358.9" x2="168.9" y2="457.9" stroke="#3d3d86" stroke-width="1.7" stroke-dasharray="7.2 6.8" stroke-dashoffset="3.6"/>
<line x1="267.9" y1="358.9" x2="267.9" y2="457.9" stroke="#3d3d86" stroke-width="1.7" stroke-dasharray="7.2 6.8" stroke-dashoffset="3.6"/>
</g>
<rect x="21.0" y="358.9" width="396.0" height="99.0" fill="none" stroke="#959595" stroke-width="1.15"/>
<path d="M30.90 457.90v1.2M40.80 457.90v1.2M50.70 457.90v1.2M60.60 457.90v1.2M80.40 457.90v1.2M90.30 457.90v1.2M100.20 457.90v1.2M110.10 457.90v1.2M129.90 457.90v1.2M139.80 457.90v1.2M149.70 457.90v1.2M159.60 457.90v1.2M179.40 457.90v1.2M189.30 457.90v1.2M199.20 457.90v1.2M209.10 457.90v1.2M228.90 457.90v1.2M238.80 457.90v1.2M248.70 457.90v1.2M258.60 457.90v1.2M278.40 457.90v1.2M288.30 457.90v1.2M298.20 457.90v1.2M308.10 457.90v1.2M327.90 457.90v1.2M337.80 457.90v1.2M347.70 457.90v1.2M357.60 457.90v1.2M377.40 457.90v1.2M387.30 457.90v1.2M397.20 457.90v1.2M407.10 457.90v1.2M19.80 360.88h1.2M19.80 364.84h1.2M19.80 372.76h1.2M19.80 376.72h1.2M19.80 380.68h1.2M19.80 384.64h1.2M19.80 392.56h1.2M19.80 396.52h1.2M19.80 400.48h1.2M19.80 404.44h1.2M19.80 412.36h1.2M19.80 416.32h1.2M19.80 420.28h1.2M19.80 424.24h1.2M19.80 432.16h1.2M19.80 436.12h1.2M19.80 440.08h1.2M19.80 444.04h1.2M19.80 451.96h1.2M19.80 455.92h1.2" stroke="#888" stroke-width="0.5" fill="none"/>
<line x1="21.00" y1="457.90" x2="21.00" y2="459.70" class="tk"/>
<line x1="70.50" y1="457.90" x2="70.50" y2="459.70" class="tk"/>
<line x1="120.00" y1="457.90" x2="120.00" y2="459.70" class="tk"/>
<line x1="169.50" y1="457.90" x2="169.50" y2="459.70" class="tk"/>
<line x1="219.00" y1="457.90" x2="219.00" y2="459.70" class="tk"/>
<line x1="268.50" y1="457.90" x2="268.50" y2="459.70" class="tk"/>
<line x1="318.00" y1="457.90" x2="318.00" y2="459.70" class="tk"/>
<line x1="367.50" y1="457.90" x2="367.50" y2="459.70" class="tk"/>
<line x1="417.00" y1="457.90" x2="417.00" y2="459.70" class="tk"/>
<line x1="19.20" y1="368.80" x2="21.00" y2="368.80" class="tk"/>
<line x1="19.20" y1="388.60" x2="21.00" y2="388.60" class="tk"/>
<line x1="19.20" y1="408.40" x2="21.00" y2="408.40" class="tk"/>
<line x1="19.20" y1="428.20" x2="21.00" y2="428.20" class="tk"/>
<line x1="19.20" y1="448.00" x2="21.00" y2="448.00" class="tk"/>
<text x="21.00" y="464.70" class="tl" text-anchor="middle">-1.00</text>
<text x="70.50" y="464.70" class="tl" text-anchor="middle">-0.75</text>
<text x="120.00" y="464.70" class="tl" text-anchor="middle">-0.50</text>
<text x="169.50" y="464.70" class="tl" text-anchor="middle">-0.25</text>
<text x="219.00" y="464.70" class="tl" text-anchor="middle">0.00</text>
<text x="268.50" y="464.70" class="tl" text-anchor="middle">0.25</text>
<text x="318.00" y="464.70" class="tl" text-anchor="middle">0.50</text>
<text x="367.50" y="464.70" class="tl" text-anchor="middle">0.75</text>
<text x="417.00" y="464.70" class="tl" text-anchor="middle">1.00</text>
<text x="17.80" y="370.80" class="tl" text-anchor="end">0.2</text>
<text x="17.80" y="390.60" class="tl" text-anchor="end">0.1</text>
<text x="17.80" y="410.40" class="tl" text-anchor="end">0.0</text>
<text x="17.80" y="430.20" class="tl" text-anchor="end">-0.1</text>
<text x="17.80" y="450.00" class="tl" text-anchor="end">-0.2</text>
<text class="tl" transform="translate(4 408.4) rotate(-90)" text-anchor="middle">y</text>
<text x="219" y="470.5" class="tl" text-anchor="middle">x</text>
<text x="231.8" y="372.8" class="om">&#937;<tspan class="sub" dy="3.6" dx="0.3">eulerian</tspan></text>
<text x="368.8" y="374.1" class="tt">t = 0.6s</text>
</g>
<g>
<path d="M473.0 84.6 L481.7 68.0 L490.4 84.6 Z" fill="#800000"/>
<path d="M473.0 400.7 L481.7 416.9 L490.4 400.7 Z" fill="#0c0c92"/>
<rect x="473.0" y="84.10" width="17.4" height="15.48" fill="#a80008"/>
<rect x="473.0" y="99.18" width="17.4" height="15.48" fill="#dd0a0a"/>
<rect x="473.0" y="114.26" width="17.4" height="15.48" fill="#ff2a10"/>
<rect x="473.0" y="129.34" width="17.4" height="15.48" fill="#ff4a10"/>
<rect x="473.0" y="144.42" width="17.4" height="15.48" fill="#ff8010"/>
<rect x="473.0" y="159.50" width="17.4" height="15.48" fill="#ffa810"/>
<rect x="473.0" y="174.59" width="17.4" height="15.48" fill="#ffd810"/>
<rect x="473.0" y="189.67" width="17.4" height="15.48" fill="#e8ff10"/>
<rect x="473.0" y="204.75" width="17.4" height="15.48" fill="#b8fa35"/>
<rect x="473.0" y="219.83" width="17.4" height="15.48" fill="#ffcccc"/>
<rect x="473.0" y="234.91" width="17.4" height="15.48" fill="#ffffff"/>
<rect x="473.0" y="249.99" width="17.4" height="15.48" fill="#ccccff"/>
<rect x="473.0" y="265.07" width="17.4" height="15.48" fill="#36f5b4"/>
<rect x="473.0" y="280.15" width="17.4" height="15.48" fill="#20f0d0"/>
<rect x="473.0" y="295.23" width="17.4" height="15.48" fill="#10c0f8"/>
<rect x="473.0" y="310.31" width="17.4" height="15.48" fill="#0898f8"/>
<rect x="473.0" y="325.40" width="17.4" height="15.48" fill="#0870f8"/>
<rect x="473.0" y="340.48" width="17.4" height="15.48" fill="#0840f8"/>
<rect x="473.0" y="355.56" width="17.4" height="15.48" fill="#0818f0"/>
<rect x="473.0" y="370.64" width="17.4" height="15.48" fill="#0808d8"/>
<rect x="473.0" y="385.72" width="17.4" height="15.48" fill="#0808b0"/>
<path d="M473.0 84.3 L481.7 68.0 L490.4 84.3 L490.4 401.0 L481.7 416.9 L473.0 401.0 Z" fill="none" stroke="#666" stroke-width="0.8"/>
<line x1="490.4" y1="84.30" x2="492.6" y2="84.30" class="tk"/>
<text x="494.0" y="86.80" class="cl">200</text>
<line x1="490.4" y1="99.38" x2="492.6" y2="99.38" class="tk"/>
<text x="494.0" y="101.88" class="cl">180</text>
<line x1="490.4" y1="114.46" x2="492.6" y2="114.46" class="tk"/>
<text x="494.0" y="116.96" class="cl">160</text>
<line x1="490.4" y1="129.54" x2="492.6" y2="129.54" class="tk"/>
<text x="494.0" y="132.04" class="cl">140</text>
<line x1="490.4" y1="144.62" x2="492.6" y2="144.62" class="tk"/>
<text x="494.0" y="147.12" class="cl">120</text>
<line x1="490.4" y1="159.70" x2="492.6" y2="159.70" class="tk"/>
<text x="494.0" y="162.20" class="cl">100</text>
<line x1="490.4" y1="174.79" x2="492.6" y2="174.79" class="tk"/>
<text x="494.0" y="177.29" class="cl">80</text>
<line x1="490.4" y1="189.87" x2="492.6" y2="189.87" class="tk"/>
<text x="494.0" y="192.37" class="cl">60</text>
<line x1="490.4" y1="204.95" x2="492.6" y2="204.95" class="tk"/>
<text x="494.0" y="207.45" class="cl">40</text>
<line x1="490.4" y1="220.03" x2="492.6" y2="220.03" class="tk"/>
<text x="494.0" y="222.53" class="cl">20</text>
<line x1="490.4" y1="235.11" x2="492.6" y2="235.11" class="tk"/>
<text x="494.0" y="237.61" class="cl">2</text>
<line x1="490.4" y1="250.19" x2="492.6" y2="250.19" class="tk"/>
<text x="494.0" y="252.69" class="cl">-2</text>
<line x1="490.4" y1="265.27" x2="492.6" y2="265.27" class="tk"/>
<text x="494.0" y="267.77" class="cl">-20</text>
<line x1="490.4" y1="280.35" x2="492.6" y2="280.35" class="tk"/>
<text x="494.0" y="282.85" class="cl">-40</text>
<line x1="490.4" y1="295.43" x2="492.6" y2="295.43" class="tk"/>
<text x="494.0" y="297.93" class="cl">-60</text>
<line x1="490.4" y1="310.51" x2="492.6" y2="310.51" class="tk"/>
<text x="494.0" y="313.01" class="cl">-80</text>
<line x1="490.4" y1="325.60" x2="492.6" y2="325.60" class="tk"/>
<text x="494.0" y="328.10" class="cl">-100</text>
<line x1="490.4" y1="340.68" x2="492.6" y2="340.68" class="tk"/>
<text x="494.0" y="343.18" class="cl">-120</text>
<line x1="490.4" y1="355.76" x2="492.6" y2="355.76" class="tk"/>
<text x="494.0" y="358.26" class="cl">-140</text>
<line x1="490.4" y1="370.84" x2="492.6" y2="370.84" class="tk"/>
<text x="494.0" y="373.34" class="cl">-160</text>
<line x1="490.4" y1="385.92" x2="492.6" y2="385.92" class="tk"/>
<text x="494.0" y="388.42" class="cl">-180</text>
<line x1="490.4" y1="401.00" x2="492.6" y2="401.00" class="tk"/>
<text x="494.0" y="403.50" class="cl">-200</text>
<text class="vl" transform="translate(519.3 239) rotate(-90)" text-anchor="middle">Vorticity (1/s)</text>
</g>
</svg>
</body></html>
